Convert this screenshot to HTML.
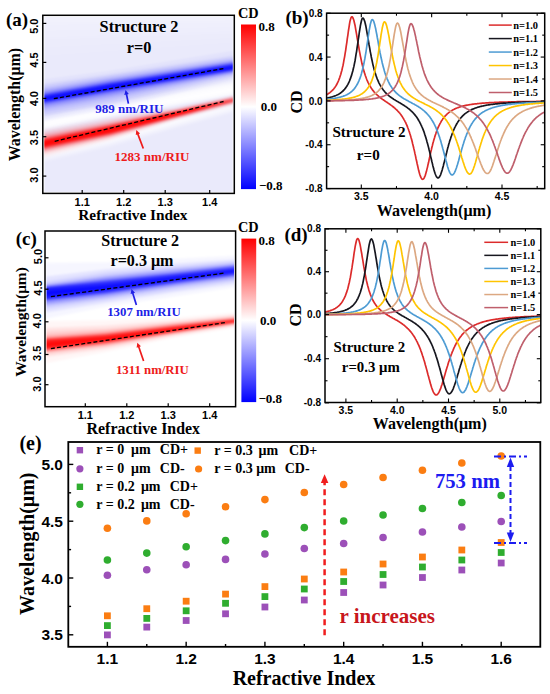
<!DOCTYPE html>
<html><head><meta charset="utf-8"><style>
html,body{margin:0;padding:0;background:#fff;width:550px;height:694px;overflow:hidden}
svg{display:block}
</style></head><body>
<svg width="550" height="694" viewBox="0 0 550 694">
<defs><linearGradient id="cbar" x1="0" y1="0" x2="0" y2="1"><stop offset="0" stop-color="#ff0000" stop-opacity="1"/><stop offset="0.5" stop-color="#ffffff" stop-opacity="1"/><stop offset="1" stop-color="#0000ff" stop-opacity="1"/></linearGradient><clipPath id="paclip"><rect x="44.3" y="16.8" width="188.5" height="175.1"/></clipPath><filter id="pab0f" x="0" y="0" width="550" height="694" filterUnits="userSpaceOnUse"><feGaussianBlur stdDeviation="1"/></filter><filter id="pab1f" x="0" y="0" width="550" height="694" filterUnits="userSpaceOnUse"><feGaussianBlur stdDeviation="1"/></filter><filter id="pab2f" x="0" y="0" width="550" height="694" filterUnits="userSpaceOnUse"><feGaussianBlur stdDeviation="1"/></filter><filter id="pab3f" x="0" y="0" width="550" height="694" filterUnits="userSpaceOnUse"><feGaussianBlur stdDeviation="1"/></filter><filter id="pab4f" x="0" y="0" width="550" height="694" filterUnits="userSpaceOnUse"><feGaussianBlur stdDeviation="1"/></filter><clipPath id="pcclip"><rect x="46.5" y="232.5" width="187.6" height="172.7"/></clipPath><filter id="pcb0f" x="0" y="0" width="550" height="694" filterUnits="userSpaceOnUse"><feGaussianBlur stdDeviation="1"/></filter><filter id="pcb1f" x="0" y="0" width="550" height="694" filterUnits="userSpaceOnUse"><feGaussianBlur stdDeviation="1"/></filter><filter id="pcb2f" x="0" y="0" width="550" height="694" filterUnits="userSpaceOnUse"><feGaussianBlur stdDeviation="1"/></filter><clipPath id="pbclip"><rect x="326.6" y="13.2" width="218.1" height="175.4"/></clipPath><clipPath id="pdclip"><rect x="325" y="228.8" width="215.8" height="173.7"/></clipPath></defs>
<rect width="550" height="694" fill="#fff"/>
<g clip-path="url(#paclip)">
<rect x="44.3" y="16.8" width="188.5" height="175.1" fill="#eaeafb" stroke="none" stroke-width="0"/>
<g fill="#ffffff" filter="url(#pab0f)"><polygon points="38.0,6.0 44.0,6.0 233.0,6.0 239.0,6.0 239.0,43.3 233.0,43.3 44.0,56.5 38.0,56.5" fill-opacity="0.036"/><polygon points="38.0,6.0 44.0,6.0 233.0,6.0 239.0,6.0 239.0,38.0 233.0,38.0 44.0,47.6 38.0,47.6" fill-opacity="0.074"/><polygon points="38.0,6.0 44.0,6.0 233.0,6.0 239.0,6.0 239.0,32.6 233.0,32.6 44.0,38.7 38.0,38.7" fill-opacity="0.080"/><polygon points="38.0,6.0 44.0,6.0 233.0,6.0 239.0,6.0 239.0,27.2 233.0,27.2 44.0,31.0 38.0,31.0" fill-opacity="0.087"/><polygon points="38.0,6.0 44.0,6.0 233.0,6.0 239.0,6.0 239.0,21.9 233.0,21.9 44.0,23.9 38.0,23.9" fill-opacity="0.095"/><polygon points="38.0,6.0 44.0,6.0 233.0,6.0 239.0,6.0 239.0,16.5 233.0,16.5 44.0,16.7 38.0,16.7" fill-opacity="0.105"/></g>
<g fill="#ffffff" filter="url(#pab1f)"><polygon points="38.0,116.9 44.0,115.7 100.0,104.7 200.0,85.7 233.0,79.7 239.0,78.6 239.0,95.3 233.0,96.4 200.0,102.4 100.0,120.3 44.0,131.3 38.0,132.5" fill-opacity="0.036"/><polygon points="38.0,117.3 44.0,116.1 100.0,105.1 200.0,86.1 233.0,80.1 239.0,79.0 239.0,95.0 233.0,96.1 200.0,102.1 100.0,120.0 44.0,131.0 38.0,132.2" fill-opacity="0.074"/><polygon points="38.0,117.7 44.0,116.6 100.0,105.6 200.0,86.6 233.0,80.6 239.0,79.5 239.0,94.8 233.0,95.9 200.0,101.9 100.0,119.7 44.0,130.7 38.0,131.8" fill-opacity="0.080"/><polygon points="38.0,118.1 44.0,117.0 100.0,106.0 200.0,87.0 233.0,81.0 239.0,79.9 239.0,94.5 233.0,95.6 200.0,101.6 100.0,119.3 44.0,130.3 38.0,131.5" fill-opacity="0.087"/><polygon points="38.0,118.6 44.0,117.4 100.0,106.4 200.0,87.4 233.0,81.4 239.0,80.3 239.0,94.3 233.0,95.4 200.0,101.4 100.0,119.0 44.0,130.0 38.0,131.2" fill-opacity="0.095"/><polygon points="38.0,119.0 44.0,117.8 100.0,106.8 200.0,87.8 233.0,81.8 239.0,80.7 239.0,94.0 233.0,95.1 200.0,101.1 100.0,118.7 44.0,129.7 38.0,130.8" fill-opacity="0.105"/><polygon points="38.0,119.4 44.0,118.2 100.0,107.2 200.0,88.2 233.0,82.2 239.0,81.1 239.0,93.8 233.0,94.9 200.0,100.9 100.0,118.3 44.0,129.3 38.0,130.5" fill-opacity="0.118"/><polygon points="38.0,119.8 44.0,118.7 100.0,107.7 200.0,88.7 233.0,82.7 239.0,81.6 239.0,93.5 233.0,94.6 200.0,100.6 100.0,118.0 44.0,129.0 38.0,130.2" fill-opacity="0.133"/><polygon points="38.0,120.2 44.0,119.1 100.0,108.1 200.0,89.1 233.0,83.1 239.0,82.0 239.0,93.3 233.0,94.4 200.0,100.4 100.0,117.6 44.0,128.6 38.0,129.8" fill-opacity="0.154"/><polygon points="38.0,120.7 44.0,119.5 100.0,108.5 200.0,89.5 233.0,83.5 239.0,82.4 239.0,93.0 233.0,94.1 200.0,100.1 100.0,117.3 44.0,128.3 38.0,129.5" fill-opacity="0.182"/><polygon points="38.0,121.1 44.0,119.9 100.0,108.9 200.0,89.9 233.0,83.9 239.0,82.8 239.0,92.8 233.0,93.9 200.0,99.9 100.0,117.0 44.0,128.0 38.0,129.1" fill-opacity="0.222"/><polygon points="38.0,121.5 44.0,120.3 100.0,109.3 200.0,90.3 233.0,84.3 239.0,83.2 239.0,92.5 233.0,93.6 200.0,99.6 100.0,116.6 44.0,127.6 38.0,128.8" fill-opacity="0.286"/><polygon points="38.0,122.8 44.0,121.6 100.0,110.6 200.0,91.9 233.0,85.9 239.0,84.8 239.0,91.3 233.0,92.4 200.0,98.4 100.0,115.6 44.0,126.6 38.0,127.8" fill-opacity="0.400"/><polygon points="38.0,124.7 44.0,123.5 100.0,112.5 200.0,94.3 233.0,88.3 239.0,87.2 239.0,89.4 233.0,90.5 200.0,96.5 100.0,114.2 44.0,125.2 38.0,126.4" fill-opacity="0.667"/></g>
<g fill="#ffffff" filter="url(#pab2f)"><polygon points="38.0,149.6 44.0,148.2 110.0,133.2 175.0,116.7 233.0,101.7 239.0,100.1 239.0,111.7 233.0,113.3 175.0,129.2 110.0,147.7 44.0,162.7 38.0,164.0" fill-opacity="0.036"/><polygon points="38.0,149.9 44.0,148.6 110.0,133.6 175.0,117.0 233.0,102.0 239.0,100.5 239.0,111.2 233.0,112.8 175.0,128.6 110.0,147.0 44.0,162.0 38.0,163.4" fill-opacity="0.074"/><polygon points="38.0,150.3 44.0,149.0 110.0,134.0 175.0,117.3 233.0,102.4 239.0,100.8 239.0,110.8 233.0,112.3 175.0,128.1 110.0,146.4 44.0,161.4 38.0,162.7" fill-opacity="0.080"/><polygon points="38.0,150.7 44.0,149.3 110.0,134.3 175.0,117.6 233.0,102.8 239.0,101.2 239.0,110.3 233.0,111.8 175.0,127.5 110.0,145.7 44.0,160.7 38.0,162.1" fill-opacity="0.087"/><polygon points="38.0,151.1 44.0,149.7 110.0,134.7 175.0,117.9 233.0,103.1 239.0,101.6 239.0,109.8 233.0,111.4 175.0,126.9 110.0,145.1 44.0,160.1 38.0,161.4" fill-opacity="0.095"/><polygon points="38.0,151.5 44.0,150.1 110.0,135.1 175.0,118.2 233.0,103.5 239.0,101.9 239.0,109.3 233.0,110.9 175.0,126.4 110.0,144.4 44.0,159.4 38.0,160.8" fill-opacity="0.105"/><polygon points="38.0,151.8 44.0,150.5 110.0,135.5 175.0,118.5 233.0,103.8 239.0,102.3 239.0,108.8 233.0,110.3 175.0,125.8 110.0,143.8 44.0,158.8 38.0,160.1" fill-opacity="0.118"/><polygon points="38.0,152.2 44.0,150.9 110.0,135.9 175.0,118.8 233.0,104.2 239.0,102.6 239.0,107.9 233.0,109.5 175.0,125.1 110.0,143.1 44.0,158.1 38.0,159.5" fill-opacity="0.133"/><polygon points="38.0,152.6 44.0,151.2 110.0,136.2 175.0,119.1 233.0,104.7 239.0,103.2 239.0,107.1 233.0,108.6 175.0,124.4 110.0,142.4 44.0,157.4 38.0,158.8" fill-opacity="0.154"/><polygon points="38.0,153.0 44.0,151.6 110.0,136.6 175.0,119.4 233.0,106.9 239.0,105.3 239.0,106.2 233.0,107.8 175.0,123.7 110.0,141.7 44.0,156.7 38.0,158.1" fill-opacity="0.182"/><polygon points="38.0,153.4 44.0,152.0 110.0,137.0 175.0,121.0 233.0,107.5 239.0,105.9 239.0,105.9 233.0,107.5 175.0,123.0 110.0,141.0 44.0,156.0 38.0,157.4" fill-opacity="0.222"/><polygon points="38.0,155.5 44.0,154.1 110.0,139.1 175.0,122.5 233.0,107.5 239.0,105.9 239.0,105.9 233.0,107.5 175.0,122.5 110.0,140.3 44.0,155.3 38.0,156.6" fill-opacity="0.286"/></g>
<g fill="#0000ff" filter="url(#pab3f)"><polygon points="38.0,80.5 44.0,79.5 110.0,71.0 233.0,51.1 239.0,50.1 239.0,78.3 233.0,79.3 110.0,109.3 44.0,120.9 38.0,122.0" fill-opacity="0.036"/><polygon points="38.0,85.0 44.0,83.9 110.0,74.4 233.0,55.9 239.0,54.9 239.0,76.0 233.0,76.9 110.0,104.1 44.0,115.7 38.0,116.8" fill-opacity="0.074"/><polygon points="38.0,88.0 44.0,86.9 110.0,76.3 233.0,58.3 239.0,57.4 239.0,74.1 233.0,75.1 110.0,100.8 44.0,112.4 38.0,113.4" fill-opacity="0.080"/><polygon points="38.0,90.0 44.0,88.9 110.0,78.2 233.0,59.9 239.0,58.9 239.0,73.1 233.0,74.0 110.0,98.0 44.0,109.5 38.0,110.6" fill-opacity="0.087"/><polygon points="38.0,91.6 44.0,90.5 110.0,79.3 233.0,60.9 239.0,59.9 239.0,72.0 233.0,73.0 110.0,96.2 44.0,107.8 38.0,108.8" fill-opacity="0.095"/><polygon points="38.0,93.0 44.0,91.9 110.0,80.3 233.0,61.5 239.0,60.6 239.0,71.5 233.0,72.5 110.0,94.4 44.0,106.0 38.0,107.0" fill-opacity="0.105"/><polygon points="38.0,93.8 44.0,92.8 110.0,81.3 233.0,62.2 239.0,61.2 239.0,71.0 233.0,72.0 110.0,93.4 44.0,105.0 38.0,106.1" fill-opacity="0.118"/><polygon points="38.0,94.6 44.0,93.6 110.0,81.9 233.0,62.9 239.0,61.9 239.0,70.5 233.0,71.5 110.0,92.6 44.0,104.1 38.0,105.2" fill-opacity="0.133"/><polygon points="38.0,95.4 44.0,94.3 110.0,82.5 233.0,63.3 239.0,62.4 239.0,70.0 233.0,71.0 110.0,91.7 44.0,103.3 38.0,104.3" fill-opacity="0.154"/><polygon points="38.0,95.9 44.0,94.8 110.0,83.0 233.0,63.8 239.0,62.8 239.0,69.6 233.0,70.6 110.0,91.0 44.0,102.8 38.0,103.8" fill-opacity="0.182"/><polygon points="38.0,96.4 44.0,95.3 110.0,83.5 233.0,64.2 239.0,63.3 239.0,69.3 233.0,70.2 110.0,90.6 44.0,102.3 38.0,103.4" fill-opacity="0.222"/><polygon points="38.0,96.8 44.0,95.8 110.0,84.0 233.0,64.6 239.0,63.7 239.0,68.9 233.0,69.9 110.0,90.2 44.0,101.8 38.0,102.9" fill-opacity="0.286"/><polygon points="38.0,97.3 44.0,96.3 110.0,84.5 233.0,65.3 239.0,64.3 239.0,68.6 233.0,69.5 110.0,89.9 44.0,101.3 38.0,102.4" fill-opacity="0.400"/><polygon points="38.0,99.0 44.0,97.9 110.0,86.1 233.0,66.8 239.0,65.8 239.0,67.3 233.0,68.2 110.0,88.3 44.0,99.7 38.0,100.7" fill-opacity="0.667"/></g>
<g fill="#ff0000" filter="url(#pab4f)"><polygon points="38.0,129.9 44.0,128.7 110.0,117.2 175.0,107.6 233.0,95.6 239.0,94.1 239.0,103.5 233.0,105.0 175.0,120.4 110.0,140.8 44.0,157.8 38.0,159.0" fill-opacity="0.036"/><polygon points="38.0,132.3 44.0,131.1 110.0,119.6 175.0,108.4 233.0,96.2 239.0,94.7 239.0,102.9 233.0,104.3 175.0,119.7 110.0,139.1 44.0,155.1 38.0,156.3" fill-opacity="0.074"/><polygon points="38.0,134.2 44.0,133.0 110.0,121.0 175.0,109.2 233.0,96.7 239.0,95.3 239.0,102.2 233.0,103.7 175.0,119.1 110.0,137.8 44.0,153.1 38.0,154.3" fill-opacity="0.080"/><polygon points="38.0,135.5 44.0,134.2 110.0,122.2 175.0,109.8 233.0,97.3 239.0,95.9 239.0,101.7 233.0,103.2 175.0,118.6 110.0,136.8 44.0,152.0 38.0,153.2" fill-opacity="0.087"/><polygon points="38.0,136.7 44.0,135.5 110.0,123.2 175.0,110.2 233.0,97.6 239.0,96.2 239.0,101.4 233.0,102.8 175.0,118.2 110.0,136.3 44.0,150.9 38.0,152.2" fill-opacity="0.095"/><polygon points="38.0,137.8 44.0,136.6 110.0,123.7 175.0,110.5 233.0,97.9 239.0,96.5 239.0,101.1 233.0,102.5 175.0,117.9 110.0,135.8 44.0,150.1 38.0,151.4" fill-opacity="0.105"/><polygon points="38.0,138.4 44.0,137.2 110.0,124.3 175.0,110.8 233.0,98.2 239.0,96.8 239.0,100.8 233.0,102.2 175.0,117.6 110.0,135.3 44.0,149.5 38.0,150.8" fill-opacity="0.118"/><polygon points="38.0,138.9 44.0,137.7 110.0,124.9 175.0,111.1 233.0,98.5 239.0,97.1 239.0,100.4 233.0,101.9 175.0,117.3 110.0,134.8 44.0,149.0 38.0,150.2" fill-opacity="0.133"/><polygon points="38.0,139.5 44.0,138.3 110.0,125.3 175.0,111.4 233.0,98.9 239.0,97.4 239.0,99.9 233.0,101.4 175.0,117.0 110.0,134.5 44.0,148.4 38.0,149.6" fill-opacity="0.154"/><polygon points="38.0,140.1 44.0,138.8 110.0,125.6 175.0,111.7 233.0,99.6 239.0,98.1 239.0,99.4 233.0,100.8 175.0,116.7 110.0,134.1 44.0,147.8 38.0,149.0" fill-opacity="0.182"/><polygon points="38.0,140.6 44.0,139.4 110.0,126.0 175.0,112.0 233.0,100.3 239.0,98.9 239.0,98.9 233.0,100.3 175.0,116.5 110.0,133.8 44.0,147.4 38.0,148.6" fill-opacity="0.222"/><polygon points="38.0,141.1 44.0,139.9 110.0,126.4 175.0,112.2 233.0,100.3 239.0,98.9 239.0,98.9 233.0,100.3 175.0,116.2 110.0,133.3 44.0,146.9 38.0,148.2" fill-opacity="0.286"/><polygon points="38.0,141.7 44.0,140.4 110.0,126.9 175.0,112.5 233.0,100.3 239.0,98.9 239.0,98.9 233.0,100.3 175.0,115.9 110.0,132.8 44.0,146.5 38.0,147.7" fill-opacity="0.400"/><polygon points="38.0,142.2 44.0,141.0 110.0,127.6 175.0,113.1 233.0,100.3 239.0,98.9 239.0,98.9 233.0,100.3 175.0,115.3 110.0,132.3 44.0,146.0 38.0,147.3" fill-opacity="0.667"/></g>
</g>
<line x1="53.8" y1="98.7" x2="223.6" y2="68.5" stroke="#000" stroke-width="1.3" stroke-dasharray="4.02 2.21"/>
<line x1="54.7" y1="141.3" x2="223.6" y2="101.5" stroke="#000" stroke-width="1.3" stroke-dasharray="4.05 2.23"/>
<rect x="42.8" y="15.3" width="191.5" height="178.1" fill="none" stroke="#000" stroke-width="1.5"/>
<line x1="42.8" y1="23.4" x2="46.3" y2="23.4" stroke="#000" stroke-width="1.2"/>
<line x1="42.8" y1="62.4" x2="46.3" y2="62.4" stroke="#000" stroke-width="1.2"/>
<line x1="42.8" y1="98.4" x2="46.3" y2="98.4" stroke="#000" stroke-width="1.2"/>
<line x1="42.8" y1="136.7" x2="46.3" y2="136.7" stroke="#000" stroke-width="1.2"/>
<line x1="42.8" y1="176.1" x2="46.3" y2="176.1" stroke="#000" stroke-width="1.2"/>
<line x1="82.2" y1="193.4" x2="82.2" y2="189.9" stroke="#000" stroke-width="1.2"/>
<line x1="123.7" y1="193.4" x2="123.7" y2="189.9" stroke="#000" stroke-width="1.2"/>
<line x1="165.2" y1="193.4" x2="165.2" y2="189.9" stroke="#000" stroke-width="1.2"/>
<line x1="209.7" y1="193.4" x2="209.7" y2="189.9" stroke="#000" stroke-width="1.2"/>
<text x="139" y="32.2" font-family='"Liberation Serif", serif' font-size="16.3" font-weight="bold" text-anchor="middle" fill="#000">Structure 2</text>
<text x="139" y="53.1" font-family='"Liberation Serif", serif' font-size="16.3" font-weight="bold" text-anchor="middle" fill="#000">r=0</text>
<text x="129.3" y="112.6" font-family='"Liberation Serif", serif' font-size="13" font-weight="bold" text-anchor="middle" fill="#1f1fe6">989 nm/RIU</text>
<text x="152" y="160.7" font-family='"Liberation Serif", serif' font-size="13" font-weight="bold" text-anchor="middle" fill="#ee1b1b">1283 nm/RIU</text>
<line x1="128.4" y1="103.6" x2="126.43" y2="94.02" stroke="#1f1fe6" stroke-width="1.7"/>
<polygon points="125.6,90 128.78,94.04 124.27,94.97" fill="#1f1fe6"/>
<line x1="143.3" y1="148.5" x2="137.75" y2="133.83" stroke="#ee1b1b" stroke-width="1.7"/>
<polygon points="136.3,130 140.08,133.49 135.78,135.12" fill="#ee1b1b"/>
<text x="38.3" y="26.2" font-family='"Liberation Sans", sans-serif' font-size="11" font-weight="bold" text-anchor="middle" fill="#000" transform="rotate(-90 38.3 26.2)">5.0</text>
<text x="38.3" y="60" font-family='"Liberation Sans", sans-serif' font-size="11" font-weight="bold" text-anchor="middle" fill="#000" transform="rotate(-90 38.3 60)">4.5</text>
<text x="38.3" y="98.7" font-family='"Liberation Sans", sans-serif' font-size="11" font-weight="bold" text-anchor="middle" fill="#000" transform="rotate(-90 38.3 98.7)">4.0</text>
<text x="38.3" y="137.5" font-family='"Liberation Sans", sans-serif' font-size="11" font-weight="bold" text-anchor="middle" fill="#000" transform="rotate(-90 38.3 137.5)">3.5</text>
<text x="38.3" y="175.1" font-family='"Liberation Sans", sans-serif' font-size="11" font-weight="bold" text-anchor="middle" fill="#000" transform="rotate(-90 38.3 175.1)">3.0</text>
<text x="82.2" y="205.7" font-family='"Liberation Sans", sans-serif' font-size="11" font-weight="bold" text-anchor="middle" fill="#000">1.1</text>
<text x="123.7" y="205.7" font-family='"Liberation Sans", sans-serif' font-size="11" font-weight="bold" text-anchor="middle" fill="#000">1.2</text>
<text x="165.2" y="205.7" font-family='"Liberation Sans", sans-serif' font-size="11" font-weight="bold" text-anchor="middle" fill="#000">1.3</text>
<text x="209.7" y="205.7" font-family='"Liberation Sans", sans-serif' font-size="11" font-weight="bold" text-anchor="middle" fill="#000">1.4</text>
<text x="132.9" y="220.1" font-family='"Liberation Serif", serif' font-size="15.3" font-weight="bold" text-anchor="middle" fill="#000">Refractive Index</text>
<text x="19.8" y="104.6" font-family='"Liberation Serif", serif' font-size="15.9" font-weight="bold" text-anchor="middle" fill="#000" transform="rotate(-90 19.8 104.6)">Wavelength(μm)</text>
<text x="17.1" y="26.1" font-family='"Liberation Serif", serif' font-size="19" font-weight="bold" text-anchor="middle" fill="#000">(a)</text>
<rect x="241" y="24.5" width="15" height="164.6" fill="url(#cbar)" stroke="none" stroke-width="0"/>
<text x="248.3" y="18.3" font-family='"Liberation Serif", serif' font-size="14.3" font-weight="bold" text-anchor="middle" fill="#000">CD</text>
<text x="258.4" y="30.5" font-family='"Liberation Serif", serif' font-size="13" font-weight="bold" text-anchor="start" fill="#000">0.8</text>
<text x="260.7" y="110.9" font-family='"Liberation Serif", serif' font-size="13" font-weight="bold" text-anchor="start" fill="#000">0.0</text>
<text x="258.9" y="189.5" font-family='"Liberation Serif", serif' font-size="13" font-weight="bold" text-anchor="start" fill="#000">−0.8</text>
<g clip-path="url(#pcclip)">
<rect x="46.5" y="232.5" width="187.6" height="172.7" fill="#ffffff" stroke="none" stroke-width="0"/>
<g fill="#ff0000" filter="url(#pcb0f)"></g>
<g fill="#0000ff" filter="url(#pcb1f)"><polygon points="40.0,263.3 46.0,262.7 106.0,262.3 175.0,258.7 234.0,255.7 240.0,254.9 240.0,286.7 234.0,287.4 175.0,296.4 106.0,306.7 46.0,318.8 40.0,319.4" fill-opacity="0.036"/><polygon points="40.0,277.1 46.0,276.5 106.0,269.2 175.0,263.5 234.0,259.6 240.0,258.9 240.0,283.5 234.0,284.3 175.0,292.3 106.0,302.9 46.0,312.4 40.0,313.0" fill-opacity="0.074"/><polygon points="40.0,281.8 46.0,281.2 106.0,272.6 175.0,266.6 234.0,261.2 240.0,260.5 240.0,280.9 234.0,281.6 175.0,289.9 106.0,300.3 46.0,309.0 40.0,309.6" fill-opacity="0.080"/><polygon points="40.0,284.0 46.0,283.4 106.0,275.3 175.0,268.3 234.0,262.9 240.0,262.1 240.0,279.4 234.0,280.1 175.0,287.5 106.0,298.6 46.0,306.3 40.0,306.9" fill-opacity="0.087"/><polygon points="40.0,285.1 46.0,284.5 106.0,276.4 175.0,269.5 234.0,264.2 240.0,263.4 240.0,277.9 234.0,278.6 175.0,286.5 106.0,297.0 46.0,304.9 40.0,305.5" fill-opacity="0.095"/><polygon points="40.0,286.0 46.0,285.4 106.0,277.6 175.0,270.7 234.0,264.7 240.0,264.0 240.0,276.4 234.0,277.1 175.0,285.5 106.0,295.9 46.0,303.4 40.0,304.0" fill-opacity="0.105"/><polygon points="40.0,286.4 46.0,285.8 106.0,278.7 175.0,271.9 234.0,265.3 240.0,264.5 240.0,275.8 234.0,276.5 175.0,284.5 106.0,294.8 46.0,302.3 40.0,302.9" fill-opacity="0.118"/><polygon points="40.0,286.8 46.0,286.2 106.0,279.6 175.0,272.8 234.0,265.8 240.0,265.1 240.0,275.2 234.0,276.0 175.0,283.7 106.0,294.0 46.0,301.3 40.0,301.9" fill-opacity="0.133"/><polygon points="40.0,287.2 46.0,286.6 106.0,280.2 175.0,273.3 234.0,266.4 240.0,265.6 240.0,274.7 234.0,275.4 175.0,283.2 106.0,293.5 46.0,300.3 40.0,300.9" fill-opacity="0.154"/><polygon points="40.0,287.6 46.0,287.0 106.0,280.8 175.0,273.8 234.0,266.9 240.0,266.2 240.0,274.1 234.0,274.9 175.0,282.7 106.0,293.0 46.0,299.8 40.0,300.4" fill-opacity="0.182"/><polygon points="40.0,288.0 46.0,287.4 106.0,281.4 175.0,274.3 234.0,267.5 240.0,266.7 240.0,273.6 234.0,274.4 175.0,282.2 106.0,292.5 46.0,299.3 40.0,299.9" fill-opacity="0.222"/><polygon points="40.0,288.4 46.0,287.8 106.0,282.1 175.0,274.8 234.0,268.5 240.0,267.7 240.0,272.9 234.0,273.7 175.0,281.7 106.0,292.0 46.0,298.8 40.0,299.4" fill-opacity="0.286"/><polygon points="40.0,288.7 46.0,288.1 106.0,283.7 175.0,276.0 234.0,269.5 240.0,268.7 240.0,271.8 234.0,272.6 175.0,280.6 106.0,290.5 46.0,298.4 40.0,299.0" fill-opacity="0.400"/><polygon points="40.0,291.7 46.0,291.1 106.0,286.1 175.0,277.7 234.0,270.5 240.0,269.7 240.0,270.8 234.0,271.5 175.0,279.2 106.0,288.4 46.0,295.5 40.0,296.1" fill-opacity="0.667"/></g>
<g fill="#ff0000" filter="url(#pcb2f)"><polygon points="40.0,321.7 46.0,321.1 106.0,320.2 175.0,317.7 234.0,312.4 240.0,311.6 240.0,327.1 234.0,327.9 175.0,337.6 106.0,351.9 46.0,363.2 40.0,363.8" fill-opacity="0.036"/><polygon points="40.0,328.3 46.0,327.7 106.0,325.5 175.0,320.4 234.0,314.8 240.0,314.0 240.0,325.4 234.0,326.3 175.0,335.9 106.0,348.9 46.0,356.9 40.0,357.5" fill-opacity="0.074"/><polygon points="40.0,331.8 46.0,331.1 106.0,328.8 175.0,321.9 234.0,315.9 240.0,315.1 240.0,324.6 234.0,325.4 175.0,334.3 106.0,347.1 46.0,354.4 40.0,355.1" fill-opacity="0.080"/><polygon points="40.0,334.5 46.0,333.9 106.0,330.1 175.0,323.3 234.0,316.9 240.0,316.1 240.0,323.7 234.0,324.6 175.0,333.9 106.0,346.1 46.0,352.8 40.0,353.4" fill-opacity="0.087"/><polygon points="40.0,336.6 46.0,336.0 106.0,331.5 175.0,323.8 234.0,317.8 240.0,317.0 240.0,323.2 234.0,324.1 175.0,333.4 106.0,345.1 46.0,352.2 40.0,352.8" fill-opacity="0.095"/><polygon points="40.0,337.3 46.0,336.7 106.0,332.7 175.0,324.3 234.0,318.1 240.0,317.3 240.0,323.0 234.0,323.8 175.0,333.0 106.0,344.4 46.0,351.6 40.0,352.2" fill-opacity="0.105"/><polygon points="40.0,338.1 46.0,337.4 106.0,333.2 175.0,324.8 234.0,318.4 240.0,317.6 240.0,322.7 234.0,323.5 175.0,332.5 106.0,343.9 46.0,351.0 40.0,351.6" fill-opacity="0.118"/><polygon points="40.0,338.8 46.0,338.2 106.0,333.6 175.0,325.3 234.0,318.7 240.0,317.9 240.0,322.5 234.0,323.3 175.0,332.2 106.0,343.4 46.0,350.4 40.0,351.0" fill-opacity="0.133"/><polygon points="40.0,339.2 46.0,338.6 106.0,334.1 175.0,325.8 234.0,319.1 240.0,318.2 240.0,322.2 234.0,323.0 175.0,331.9 106.0,342.9 46.0,350.0 40.0,350.6" fill-opacity="0.154"/><polygon points="40.0,339.6 46.0,339.0 106.0,334.6 175.0,326.2 234.0,319.4 240.0,318.6 240.0,322.0 234.0,322.8 175.0,331.6 106.0,342.4 46.0,349.6 40.0,350.2" fill-opacity="0.182"/><polygon points="40.0,340.0 46.0,339.4 106.0,335.0 175.0,326.7 234.0,319.7 240.0,318.9 240.0,321.6 234.0,322.4 175.0,331.4 106.0,342.0 46.0,349.2 40.0,349.8" fill-opacity="0.222"/><polygon points="40.0,340.4 46.0,339.8 106.0,335.5 175.0,327.1 234.0,320.2 240.0,319.4 240.0,321.1 234.0,322.0 175.0,331.1 106.0,341.6 46.0,348.8 40.0,349.5" fill-opacity="0.286"/><polygon points="40.0,340.8 46.0,340.2 106.0,335.9 175.0,327.5 234.0,320.8 240.0,319.9 240.0,320.7 234.0,321.5 175.0,330.8 106.0,341.3 46.0,348.4 40.0,349.1" fill-opacity="0.400"/><polygon points="40.0,343.4 46.0,342.8 106.0,337.5 175.0,328.2 234.0,321.2 240.0,320.4 240.0,320.4 234.0,321.2 175.0,329.8 106.0,339.7 46.0,346.4 40.0,347.0" fill-opacity="0.667"/></g>
</g>
<line x1="50.9" y1="296.6" x2="223.5" y2="273.2" stroke="#000" stroke-width="1.3" stroke-dasharray="4.06 2.24"/>
<line x1="50.9" y1="348.6" x2="225" y2="322.6" stroke="#000" stroke-width="1.3" stroke-dasharray="3.96 2.18"/>
<rect x="45" y="231" width="190.6" height="175.7" fill="none" stroke="#000" stroke-width="1.5"/>
<line x1="45" y1="257.8" x2="48.5" y2="257.8" stroke="#000" stroke-width="1.2"/>
<line x1="45" y1="289.2" x2="48.5" y2="289.2" stroke="#000" stroke-width="1.2"/>
<line x1="45" y1="321.8" x2="48.5" y2="321.8" stroke="#000" stroke-width="1.2"/>
<line x1="45" y1="354.5" x2="48.5" y2="354.5" stroke="#000" stroke-width="1.2"/>
<line x1="45" y1="384.7" x2="48.5" y2="384.7" stroke="#000" stroke-width="1.2"/>
<line x1="85.3" y1="406.7" x2="85.3" y2="403.2" stroke="#000" stroke-width="1.2"/>
<line x1="126.8" y1="406.7" x2="126.8" y2="403.2" stroke="#000" stroke-width="1.2"/>
<line x1="168.2" y1="406.7" x2="168.2" y2="403.2" stroke="#000" stroke-width="1.2"/>
<line x1="209.7" y1="406.7" x2="209.7" y2="403.2" stroke="#000" stroke-width="1.2"/>
<text x="140.2" y="246" font-family='"Liberation Serif", serif' font-size="16.1" font-weight="bold" text-anchor="middle" fill="#000">Structure 2</text>
<text x="142" y="266" font-family='"Liberation Serif", serif' font-size="16.1" font-weight="bold" text-anchor="middle" fill="#000">r=0.3 μm</text>
<text x="144" y="316.3" font-family='"Liberation Serif", serif' font-size="12.8" font-weight="bold" text-anchor="middle" fill="#1f1fe6">1307 nm/RIU</text>
<text x="152.4" y="374.4" font-family='"Liberation Serif", serif' font-size="12.8" font-weight="bold" text-anchor="middle" fill="#ee1b1b">1311 nm/RIU</text>
<line x1="136.4" y1="305" x2="132.7" y2="292.92" stroke="#1f1fe6" stroke-width="1.7"/>
<polygon points="131.5,289 135.05,292.72 130.65,294.07" fill="#1f1fe6"/>
<line x1="143.6" y1="361" x2="138.63" y2="346.58" stroke="#ee1b1b" stroke-width="1.7"/>
<polygon points="137.3,342.7 140.97,346.3 136.62,347.8" fill="#ee1b1b"/>
<text x="41.5" y="256.5" font-family='"Liberation Sans", sans-serif' font-size="11" font-weight="bold" text-anchor="middle" fill="#000" transform="rotate(-90 41.5 256.5)">5.0</text>
<text x="41.5" y="288" font-family='"Liberation Sans", sans-serif' font-size="11" font-weight="bold" text-anchor="middle" fill="#000" transform="rotate(-90 41.5 288)">4.5</text>
<text x="41.5" y="320.8" font-family='"Liberation Sans", sans-serif' font-size="11" font-weight="bold" text-anchor="middle" fill="#000" transform="rotate(-90 41.5 320.8)">4.0</text>
<text x="41.5" y="353.3" font-family='"Liberation Sans", sans-serif' font-size="11" font-weight="bold" text-anchor="middle" fill="#000" transform="rotate(-90 41.5 353.3)">3.5</text>
<text x="41.5" y="384.1" font-family='"Liberation Sans", sans-serif' font-size="11" font-weight="bold" text-anchor="middle" fill="#000" transform="rotate(-90 41.5 384.1)">3.0</text>
<text x="85.3" y="418.5" font-family='"Liberation Sans", sans-serif' font-size="11" font-weight="bold" text-anchor="middle" fill="#000">1.1</text>
<text x="126.8" y="418.5" font-family='"Liberation Sans", sans-serif' font-size="11" font-weight="bold" text-anchor="middle" fill="#000">1.2</text>
<text x="168.2" y="418.5" font-family='"Liberation Sans", sans-serif' font-size="11" font-weight="bold" text-anchor="middle" fill="#000">1.3</text>
<text x="209.7" y="418.5" font-family='"Liberation Sans", sans-serif' font-size="11" font-weight="bold" text-anchor="middle" fill="#000">1.4</text>
<text x="143.3" y="433.8" font-family='"Liberation Serif", serif' font-size="15.9" font-weight="bold" text-anchor="middle" fill="#000">Refractive Index</text>
<text x="25.6" y="322" font-family='"Liberation Serif", serif' font-size="15.4" font-weight="bold" text-anchor="middle" fill="#000" transform="rotate(-90 25.6 322)">Wavelength(μm)</text>
<text x="26.3" y="244.6" font-family='"Liberation Serif", serif' font-size="19" font-weight="bold" text-anchor="middle" fill="#000">(c)</text>
<rect x="241.4" y="238.6" width="14.8" height="163.5" fill="url(#cbar)" stroke="none" stroke-width="0"/>
<text x="248.3" y="232.4" font-family='"Liberation Serif", serif' font-size="14.3" font-weight="bold" text-anchor="middle" fill="#000">CD</text>
<text x="258.4" y="244.5" font-family='"Liberation Serif", serif' font-size="13" font-weight="bold" text-anchor="start" fill="#000">0.8</text>
<text x="259.9" y="324.7" font-family='"Liberation Serif", serif' font-size="13" font-weight="bold" text-anchor="start" fill="#000">0.0</text>
<text x="258.4" y="403.2" font-family='"Liberation Serif", serif' font-size="13" font-weight="bold" text-anchor="start" fill="#000">−0.8</text>
<g clip-path="url(#pbclip)" fill="none" stroke-width="1.7" stroke-linejoin="round">
<polyline stroke="#dc2b2b" points="326.6,94.6 327.1,94.3 327.7,94.0 328.2,93.7 328.8,93.3 329.3,93.0 329.9,92.6 330.4,92.2 331.0,91.7 331.5,91.2 332.1,90.7 332.6,90.2 333.1,89.6 333.7,89.0 334.2,88.3 334.8,87.5 335.3,86.8 335.9,85.9 336.4,85.0 337.0,84.0 337.5,82.9 338.1,81.7 338.6,80.5 339.1,79.1 339.7,77.6 340.2,76.0 340.8,74.2 341.3,72.3 341.9,70.2 342.4,67.9 343.0,65.5 343.5,62.8 344.0,59.9 344.6,56.8 345.1,53.6 345.7,50.1 346.2,46.4 346.8,42.6 347.3,38.7 347.9,34.8 348.4,31.0 349.0,27.3 349.5,24.0 350.0,21.2 350.6,19.0 351.1,17.5 351.7,16.8 352.2,16.9 352.8,17.6 353.3,18.8 353.9,20.5 354.4,22.7 355.0,25.2 355.5,28.1 356.0,31.1 356.6,34.3 357.1,37.5 357.7,40.8 358.2,44.0 358.8,47.2 359.3,50.3 359.9,53.3 360.4,56.1 361.0,58.8 361.5,61.4 362.0,63.8 362.6,66.0 363.1,68.2 363.7,70.2 364.2,72.1 364.8,73.8 365.3,75.5 365.9,77.0 366.4,78.5 366.9,79.8 367.5,81.1 368.0,82.3 368.6,83.4 369.1,84.5 369.7,85.5 370.2,86.4 370.8,87.3 371.3,88.2 371.9,89.0 372.4,89.7 372.9,90.4 373.5,91.1 374.0,91.8 374.6,92.4 375.1,93.0 375.7,93.6 376.2,94.1 376.8,94.6 377.3,95.1 377.9,95.6 378.4,96.1 378.9,96.6 379.5,97.0 380.0,97.4 380.6,97.9 381.1,98.3 381.7,98.7 382.2,99.1 382.8,99.5 383.3,99.8 383.9,100.2 384.4,100.6 384.9,101.0 385.5,101.3 386.0,101.7 386.6,102.1 387.1,102.4 387.7,102.8 388.2,103.2 388.8,103.6 389.3,103.9 389.8,104.3 390.4,104.7 390.9,105.1 391.5,105.5 392.0,105.9 392.6,106.3 393.1,106.8 393.7,107.2 394.2,107.7 394.8,108.1 395.3,108.6 395.8,109.1 396.4,109.6 396.9,110.1 397.5,110.7 398.0,111.3 398.6,111.9 399.1,112.5 399.7,113.1 400.2,113.8 400.8,114.5 401.3,115.3 401.8,116.0 402.4,116.9 402.9,117.7 403.5,118.6 404.0,119.6 404.6,120.6 405.1,121.6 405.7,122.7 406.2,123.9 406.8,125.1 407.3,126.4 407.8,127.8 408.4,129.3 408.9,130.8 409.5,132.4 410.0,134.1 410.6,135.9 411.1,137.8 411.7,139.8 412.2,141.8 412.7,144.0 413.3,146.2 413.8,148.5 414.4,150.9 414.9,153.4 415.5,155.9 416.0,158.5 416.6,161.0 417.1,163.5 417.7,166.0 418.2,168.4 418.7,170.6 419.3,172.7 419.8,174.5 420.4,176.1 420.9,177.4 421.5,178.4 422.0,179.1 422.6,179.3 423.1,179.2 423.7,178.7 424.2,177.9 424.7,176.7 425.3,175.3 425.8,173.5 426.4,171.6 426.9,169.4 427.5,167.1 428.0,164.7 428.6,162.3 429.1,159.8 429.7,157.3 430.2,154.8 430.7,152.4 431.3,150.0 431.8,147.7 432.4,145.5 432.9,143.3 433.5,141.3 434.0,139.4 434.6,137.5 435.1,135.7 435.7,134.1 436.2,132.5 436.7,131.0 437.3,129.6 437.8,128.2 438.4,127.0 438.9,125.8 439.5,124.6 440.0,123.6 440.6,122.6 441.1,121.6 441.6,120.7 442.2,119.9 442.7,119.1 443.3,118.3 443.8,117.6 444.4,116.9 444.9,116.3 445.5,115.7 446.0,115.1 446.6,114.6 447.1,114.0 447.6,113.5 448.2,113.1 448.7,112.6 449.3,112.2 449.8,111.8 450.4,111.4 450.9,111.1 451.5,110.7 452.0,110.4 452.6,110.1 453.1,109.8 453.6,109.5 454.2,109.2 454.7,108.9 455.3,108.7 455.8,108.4 456.4,108.2 456.9,108.0 457.5,107.8 458.0,107.6 458.6,107.4 459.1,107.2 459.6,107.0 460.2,106.8 460.7,106.7 461.3,106.5 461.8,106.4 462.4,106.2 462.9,106.1 463.5,105.9 464.0,105.8 464.5,105.7 465.1,105.6 465.6,105.4 466.2,105.3 466.7,105.2 467.3,105.1 467.8,105.0 468.4,104.9 468.9,104.8 469.5,104.7 470.0,104.6 470.5,104.5 471.1,104.5 471.6,104.4 472.2,104.3 472.7,104.2 473.3,104.1 473.8,104.1 474.4,104.0 474.9,103.9 475.5,103.9 476.0,103.8 476.5,103.8 477.1,103.7 477.6,103.6 478.2,103.6 478.7,103.5 479.3,103.5 479.8,103.4 480.4,103.4 480.9,103.3 481.5,103.3 482.0,103.2 482.5,103.2 483.1,103.1 483.6,103.1 484.2,103.1 484.7,103.0 485.3,103.0 485.8,102.9 486.4,102.9 486.9,102.9 487.4,102.8 488.0,102.8 488.5,102.8 489.1,102.7 489.6,102.7 490.2,102.7 490.7,102.6 491.3,102.6 491.8,102.6 492.4,102.5 492.9,102.5 493.4,102.5 494.0,102.5 494.5,102.4 495.1,102.4 495.6,102.4 496.2,102.4 496.7,102.3 497.3,102.3 497.8,102.3 498.4,102.3 498.9,102.3 499.4,102.2 500.0,102.2 500.5,102.2 501.1,102.2 501.6,102.2 502.2,102.1 502.7,102.1 503.3,102.1 503.8,102.1 504.4,102.1 504.9,102.0 505.4,102.0 506.0,102.0 506.5,102.0 507.1,102.0 507.6,102.0 508.2,101.9 508.7,101.9 509.3,101.9 509.8,101.9 510.3,101.9 510.9,101.9 511.4,101.9 512.0,101.9 512.5,101.8 513.1,101.8 513.6,101.8 514.2,101.8 514.7,101.8 515.3,101.8 515.8,101.8 516.3,101.8 516.9,101.7 517.4,101.7 518.0,101.7 518.5,101.7 519.1,101.7 519.6,101.7 520.2,101.7 520.7,101.7 521.3,101.7 521.8,101.7 522.3,101.6 522.9,101.6 523.4,101.6 524.0,101.6 524.5,101.6 525.1,101.6 525.6,101.6 526.2,101.6 526.7,101.6 527.3,101.6 527.8,101.6 528.3,101.6 528.9,101.5 529.4,101.5 530.0,101.5 530.5,101.5 531.1,101.5 531.6,101.5 532.2,101.5 532.7,101.5 533.2,101.5 533.8,101.5 534.3,101.5 534.9,101.5 535.4,101.5 536.0,101.5 536.5,101.4 537.1,101.4 537.6,101.4 538.2,101.4 538.7,101.4 539.2,101.4 539.8,101.4 540.3,101.4 540.9,101.4 541.4,101.4 542.0,101.4 542.5,101.4 543.1,101.4 543.6,101.4 544.2,101.4 544.7,101.4"/>
<polyline stroke="#17171f" points="326.6,98.1 327.1,98.0 327.7,97.9 328.2,97.8 328.8,97.7 329.3,97.5 329.9,97.4 330.4,97.3 331.0,97.2 331.5,97.0 332.1,96.9 332.6,96.7 333.1,96.5 333.7,96.3 334.2,96.1 334.8,96.0 335.3,95.7 335.9,95.5 336.4,95.3 337.0,95.0 337.5,94.8 338.1,94.5 338.6,94.2 339.1,93.9 339.7,93.5 340.2,93.2 340.8,92.8 341.3,92.4 341.9,91.9 342.4,91.5 343.0,91.0 343.5,90.4 344.0,89.9 344.6,89.3 345.1,88.6 345.7,87.9 346.2,87.1 346.8,86.3 347.3,85.4 347.9,84.4 348.4,83.4 349.0,82.2 349.5,81.0 350.0,79.6 350.6,78.2 351.1,76.6 351.7,74.9 352.2,73.0 352.8,71.0 353.3,68.8 353.9,66.4 354.4,63.8 355.0,61.0 355.5,57.9 356.0,54.7 356.6,51.3 357.1,47.7 357.7,44.0 358.2,40.2 358.8,36.3 359.3,32.5 359.9,28.9 360.4,25.6 361.0,22.8 361.5,20.5 362.0,18.9 362.6,18.2 363.1,18.2 363.7,18.8 364.2,20.0 364.8,21.6 365.3,23.8 365.9,26.3 366.4,29.1 366.9,32.1 367.5,35.3 368.0,38.5 368.6,41.8 369.1,45.0 369.7,48.2 370.2,51.3 370.8,54.2 371.3,57.0 371.9,59.7 372.4,62.2 372.9,64.6 373.5,66.9 374.0,69.0 374.6,70.9 375.1,72.8 375.7,74.5 376.2,76.1 376.8,77.7 377.3,79.1 377.9,80.4 378.4,81.7 378.9,82.8 379.5,83.9 380.0,84.9 380.6,85.9 381.1,86.8 381.7,87.7 382.2,88.5 382.8,89.3 383.3,90.0 383.9,90.7 384.4,91.3 384.9,92.0 385.5,92.6 386.0,93.1 386.6,93.7 387.1,94.2 387.7,94.7 388.2,95.2 388.8,95.6 389.3,96.1 389.8,96.5 390.4,96.9 390.9,97.3 391.5,97.7 392.0,98.1 392.6,98.4 393.1,98.8 393.7,99.2 394.2,99.5 394.8,99.8 395.3,100.2 395.8,100.5 396.4,100.8 396.9,101.2 397.5,101.5 398.0,101.8 398.6,102.1 399.1,102.5 399.7,102.8 400.2,103.1 400.8,103.4 401.3,103.8 401.8,104.1 402.4,104.4 402.9,104.7 403.5,105.1 404.0,105.4 404.6,105.8 405.1,106.2 405.7,106.5 406.2,106.9 406.8,107.3 407.3,107.7 407.8,108.1 408.4,108.5 408.9,108.9 409.5,109.4 410.0,109.8 410.6,110.3 411.1,110.8 411.7,111.3 412.2,111.9 412.7,112.4 413.3,113.0 413.8,113.6 414.4,114.2 414.9,114.9 415.5,115.6 416.0,116.3 416.6,117.1 417.1,117.8 417.7,118.7 418.2,119.5 418.7,120.5 419.3,121.4 419.8,122.4 420.4,123.5 420.9,124.6 421.5,125.8 422.0,127.0 422.6,128.3 423.1,129.7 423.7,131.1 424.2,132.6 424.7,134.2 425.3,135.9 425.8,137.6 426.4,139.5 426.9,141.4 427.5,143.4 428.0,145.4 428.6,147.6 429.1,149.8 429.7,152.0 430.2,154.3 430.7,156.6 431.3,159.0 431.8,161.3 432.4,163.6 432.9,165.9 433.5,168.0 434.0,170.0 434.6,171.9 435.1,173.5 435.7,175.0 436.2,176.1 436.7,177.0 437.3,177.6 437.8,177.9 438.4,177.9 438.9,177.5 439.5,176.9 440.0,175.9 440.6,174.8 441.1,173.3 441.6,171.7 442.2,169.9 442.7,168.0 443.3,165.9 443.8,163.8 444.4,161.6 444.9,159.4 445.5,157.2 446.0,155.0 446.6,152.8 447.1,150.6 447.6,148.6 448.2,146.5 448.7,144.5 449.3,142.6 449.8,140.8 450.4,139.1 450.9,137.4 451.5,135.8 452.0,134.3 452.6,132.8 453.1,131.4 453.6,130.1 454.2,128.9 454.7,127.7 455.3,126.6 455.8,125.5 456.4,124.5 456.9,123.5 457.5,122.6 458.0,121.8 458.6,120.9 459.1,120.2 459.6,119.4 460.2,118.7 460.7,118.0 461.3,117.4 461.8,116.8 462.4,116.2 462.9,115.7 463.5,115.1 464.0,114.6 464.5,114.2 465.1,113.7 465.6,113.3 466.2,112.9 466.7,112.5 467.3,112.1 467.8,111.7 468.4,111.4 468.9,111.1 469.5,110.8 470.0,110.5 470.5,110.2 471.1,109.9 471.6,109.6 472.2,109.4 472.7,109.1 473.3,108.9 473.8,108.7 474.4,108.4 474.9,108.2 475.5,108.0 476.0,107.8 476.5,107.7 477.1,107.5 477.6,107.3 478.2,107.1 478.7,107.0 479.3,106.8 479.8,106.7 480.4,106.5 480.9,106.4 481.5,106.3 482.0,106.1 482.5,106.0 483.1,105.9 483.6,105.8 484.2,105.7 484.7,105.5 485.3,105.4 485.8,105.3 486.4,105.2 486.9,105.1 487.4,105.0 488.0,105.0 488.5,104.9 489.1,104.8 489.6,104.7 490.2,104.6 490.7,104.5 491.3,104.5 491.8,104.4 492.4,104.3 492.9,104.3 493.4,104.2 494.0,104.1 494.5,104.1 495.1,104.0 495.6,103.9 496.2,103.9 496.7,103.8 497.3,103.8 497.8,103.7 498.4,103.7 498.9,103.6 499.4,103.6 500.0,103.5 500.5,103.5 501.1,103.4 501.6,103.4 502.2,103.3 502.7,103.3 503.3,103.2 503.8,103.2 504.4,103.2 504.9,103.1 505.4,103.1 506.0,103.1 506.5,103.0 507.1,103.0 507.6,103.0 508.2,102.9 508.7,102.9 509.3,102.9 509.8,102.8 510.3,102.8 510.9,102.8 511.4,102.7 512.0,102.7 512.5,102.7 513.1,102.6 513.6,102.6 514.2,102.6 514.7,102.6 515.3,102.5 515.8,102.5 516.3,102.5 516.9,102.5 517.4,102.5 518.0,102.4 518.5,102.4 519.1,102.4 519.6,102.4 520.2,102.3 520.7,102.3 521.3,102.3 521.8,102.3 522.3,102.3 522.9,102.2 523.4,102.2 524.0,102.2 524.5,102.2 525.1,102.2 525.6,102.2 526.2,102.1 526.7,102.1 527.3,102.1 527.8,102.1 528.3,102.1 528.9,102.1 529.4,102.0 530.0,102.0 530.5,102.0 531.1,102.0 531.6,102.0 532.2,102.0 532.7,102.0 533.2,101.9 533.8,101.9 534.3,101.9 534.9,101.9 535.4,101.9 536.0,101.9 536.5,101.9 537.1,101.9 537.6,101.9 538.2,101.8 538.7,101.8 539.2,101.8 539.8,101.8 540.3,101.8 540.9,101.8 541.4,101.8 542.0,101.8 542.5,101.8 543.1,101.7 543.6,101.7 544.2,101.7 544.7,101.7"/>
<polyline stroke="#4d9bd3" points="326.6,99.3 327.1,99.2 327.7,99.2 328.2,99.1 328.8,99.0 329.3,99.0 329.9,98.9 330.4,98.9 331.0,98.8 331.5,98.7 332.1,98.7 332.6,98.6 333.1,98.5 333.7,98.4 334.2,98.3 334.8,98.3 335.3,98.2 335.9,98.1 336.4,98.0 337.0,97.9 337.5,97.7 338.1,97.6 338.6,97.5 339.1,97.4 339.7,97.3 340.2,97.1 340.8,97.0 341.3,96.8 341.9,96.6 342.4,96.5 343.0,96.3 343.5,96.1 344.0,95.9 344.6,95.7 345.1,95.5 345.7,95.2 346.2,95.0 346.8,94.7 347.3,94.4 347.9,94.2 348.4,93.8 349.0,93.5 349.5,93.1 350.0,92.8 350.6,92.4 351.1,91.9 351.7,91.5 352.2,91.0 352.8,90.4 353.3,89.9 353.9,89.3 354.4,88.6 355.0,87.9 355.5,87.1 356.0,86.3 356.6,85.4 357.1,84.5 357.7,83.5 358.2,82.4 358.8,81.1 359.3,79.8 359.9,78.4 360.4,76.9 361.0,75.2 361.5,73.4 362.0,71.4 362.6,69.3 363.1,67.0 363.7,64.5 364.2,61.8 364.8,58.9 365.3,55.8 365.9,52.5 366.4,49.1 366.9,45.5 367.5,41.8 368.0,38.1 368.6,34.4 369.1,30.9 369.7,27.7 370.2,24.8 370.8,22.5 371.3,20.8 371.9,19.8 372.4,19.6 372.9,20.0 373.5,20.9 374.0,22.3 374.6,24.2 375.1,26.4 375.7,28.8 376.2,31.6 376.8,34.5 377.3,37.5 377.9,40.5 378.4,43.6 378.9,46.6 379.5,49.6 380.0,52.4 380.6,55.2 381.1,57.8 381.7,60.3 382.2,62.7 382.8,65.0 383.3,67.1 383.9,69.1 384.4,71.0 384.9,72.7 385.5,74.4 386.0,75.9 386.6,77.4 387.1,78.8 387.7,80.0 388.2,81.3 388.8,82.4 389.3,83.5 389.8,84.5 390.4,85.4 390.9,86.3 391.5,87.1 392.0,87.9 392.6,88.7 393.1,89.4 393.7,90.1 394.2,90.7 394.8,91.3 395.3,91.9 395.8,92.5 396.4,93.0 396.9,93.5 397.5,94.0 398.0,94.5 398.6,94.9 399.1,95.4 399.7,95.8 400.2,96.2 400.8,96.6 401.3,96.9 401.8,97.3 402.4,97.7 402.9,98.0 403.5,98.4 404.0,98.7 404.6,99.0 405.1,99.3 405.7,99.6 406.2,99.9 406.8,100.2 407.3,100.5 407.8,100.8 408.4,101.1 408.9,101.4 409.5,101.7 410.0,102.0 410.6,102.3 411.1,102.6 411.7,102.9 412.2,103.2 412.7,103.5 413.3,103.8 413.8,104.0 414.4,104.3 414.9,104.7 415.5,105.0 416.0,105.3 416.6,105.6 417.1,105.9 417.7,106.2 418.2,106.6 418.7,106.9 419.3,107.3 419.8,107.6 420.4,108.0 420.9,108.4 421.5,108.8 422.0,109.2 422.6,109.6 423.1,110.1 423.7,110.5 424.2,111.0 424.7,111.5 425.3,112.0 425.8,112.5 426.4,113.0 426.9,113.6 427.5,114.2 428.0,114.8 428.6,115.4 429.1,116.1 429.7,116.8 430.2,117.5 430.7,118.3 431.3,119.1 431.8,120.0 432.4,120.8 432.9,121.8 433.5,122.7 434.0,123.7 434.6,124.8 435.1,125.9 435.7,127.1 436.2,128.3 436.7,129.6 437.3,131.0 437.8,132.4 438.4,133.9 438.9,135.4 439.5,137.1 440.0,138.8 440.6,140.5 441.1,142.4 441.6,144.2 442.2,146.2 442.7,148.2 443.3,150.3 443.8,152.3 444.4,154.5 444.9,156.6 445.5,158.7 446.0,160.8 446.6,162.8 447.1,164.8 447.6,166.7 448.2,168.4 448.7,170.0 449.3,171.4 449.8,172.6 450.4,173.6 450.9,174.3 451.5,174.8 452.0,175.0 452.6,174.9 453.1,174.5 453.6,174.0 454.2,173.1 454.7,172.1 455.3,170.9 455.8,169.5 456.4,168.0 456.9,166.3 457.5,164.5 458.0,162.7 458.6,160.7 459.1,158.8 459.6,156.8 460.2,154.8 460.7,152.9 461.3,150.9 461.8,149.0 462.4,147.1 462.9,145.3 463.5,143.5 464.0,141.8 464.5,140.2 465.1,138.6 465.6,137.0 466.2,135.6 466.7,134.2 467.3,132.8 467.8,131.5 468.4,130.3 468.9,129.1 469.5,128.0 470.0,126.9 470.5,125.9 471.1,125.0 471.6,124.0 472.2,123.2 472.7,122.3 473.3,121.5 473.8,120.8 474.4,120.0 474.9,119.3 475.5,118.7 476.0,118.1 476.5,117.5 477.1,116.9 477.6,116.3 478.2,115.8 478.7,115.3 479.3,114.8 479.8,114.4 480.4,114.0 480.9,113.5 481.5,113.1 482.0,112.8 482.5,112.4 483.1,112.0 483.6,111.7 484.2,111.4 484.7,111.1 485.3,110.8 485.8,110.5 486.4,110.2 486.9,110.0 487.4,109.7 488.0,109.5 488.5,109.2 489.1,109.0 489.6,108.8 490.2,108.6 490.7,108.4 491.3,108.2 491.8,108.0 492.4,107.8 492.9,107.6 493.4,107.5 494.0,107.3 494.5,107.2 495.1,107.0 495.6,106.9 496.2,106.7 496.7,106.6 497.3,106.5 497.8,106.3 498.4,106.2 498.9,106.1 499.4,106.0 500.0,105.9 500.5,105.7 501.1,105.6 501.6,105.5 502.2,105.4 502.7,105.3 503.3,105.2 503.8,105.2 504.4,105.1 504.9,105.0 505.4,104.9 506.0,104.8 506.5,104.7 507.1,104.7 507.6,104.6 508.2,104.5 508.7,104.4 509.3,104.4 509.8,104.3 510.3,104.3 510.9,104.2 511.4,104.1 512.0,104.1 512.5,104.0 513.1,104.0 513.6,103.9 514.2,103.8 514.7,103.8 515.3,103.7 515.8,103.7 516.3,103.6 516.9,103.6 517.4,103.5 518.0,103.5 518.5,103.5 519.1,103.4 519.6,103.4 520.2,103.3 520.7,103.3 521.3,103.3 521.8,103.2 522.3,103.2 522.9,103.1 523.4,103.1 524.0,103.1 524.5,103.0 525.1,103.0 525.6,103.0 526.2,102.9 526.7,102.9 527.3,102.9 527.8,102.9 528.3,102.8 528.9,102.8 529.4,102.8 530.0,102.7 530.5,102.7 531.1,102.7 531.6,102.7 532.2,102.6 532.7,102.6 533.2,102.6 533.8,102.6 534.3,102.5 534.9,102.5 535.4,102.5 536.0,102.5 536.5,102.4 537.1,102.4 537.6,102.4 538.2,102.4 538.7,102.4 539.2,102.3 539.8,102.3 540.3,102.3 540.9,102.3 541.4,102.3 542.0,102.3 542.5,102.2 543.1,102.2 543.6,102.2 544.2,102.2 544.7,102.2"/>
<polyline stroke="#ffc400" points="326.6,100.3 327.1,100.2 327.7,100.2 328.2,100.2 328.8,100.2 329.3,100.1 329.9,100.1 330.4,100.1 331.0,100.1 331.5,100.0 332.1,100.0 332.6,100.0 333.1,100.0 333.7,99.9 334.2,99.9 334.8,99.9 335.3,99.8 335.9,99.8 336.4,99.8 337.0,99.7 337.5,99.7 338.1,99.6 338.6,99.6 339.1,99.5 339.7,99.5 340.2,99.4 340.8,99.4 341.3,99.3 341.9,99.3 342.4,99.2 343.0,99.2 343.5,99.1 344.0,99.0 344.6,99.0 345.1,98.9 345.7,98.8 346.2,98.8 346.8,98.7 347.3,98.6 347.9,98.5 348.4,98.4 349.0,98.3 349.5,98.2 350.0,98.1 350.6,98.0 351.1,97.9 351.7,97.8 352.2,97.6 352.8,97.5 353.3,97.4 353.9,97.2 354.4,97.1 355.0,96.9 355.5,96.7 356.0,96.5 356.6,96.3 357.1,96.1 357.7,95.9 358.2,95.7 358.8,95.5 359.3,95.2 359.9,94.9 360.4,94.6 361.0,94.3 361.5,94.0 362.0,93.7 362.6,93.3 363.1,92.9 363.7,92.5 364.2,92.0 364.8,91.5 365.3,91.0 365.9,90.4 366.4,89.8 366.9,89.2 367.5,88.5 368.0,87.7 368.6,86.9 369.1,86.1 369.7,85.1 370.2,84.1 370.8,83.0 371.3,81.8 371.9,80.4 372.4,79.0 372.9,77.5 373.5,75.8 374.0,73.9 374.6,72.0 375.1,69.8 375.7,67.4 376.2,64.9 376.8,62.2 377.3,59.2 377.9,56.1 378.4,52.8 378.9,49.3 379.5,45.7 380.0,42.0 380.6,38.3 381.1,34.7 381.7,31.3 382.2,28.3 382.8,25.7 383.3,23.7 383.9,22.4 384.4,21.8 384.9,22.0 385.5,22.7 386.0,23.9 386.6,25.6 387.1,27.7 387.7,30.1 388.2,32.8 388.8,35.7 389.3,38.7 389.8,41.8 390.4,44.9 390.9,47.9 391.5,50.9 392.0,53.8 392.6,56.6 393.1,59.2 393.7,61.8 394.2,64.1 394.8,66.4 395.3,68.5 395.8,70.5 396.4,72.4 396.9,74.1 397.5,75.8 398.0,77.3 398.6,78.8 399.1,80.1 399.7,81.4 400.2,82.6 400.8,83.7 401.3,84.7 401.8,85.7 402.4,86.6 402.9,87.5 403.5,88.3 404.0,89.1 404.6,89.8 405.1,90.5 405.7,91.2 406.2,91.8 406.8,92.4 407.3,93.0 407.8,93.5 408.4,94.0 408.9,94.5 409.5,95.0 410.0,95.4 410.6,95.9 411.1,96.3 411.7,96.7 412.2,97.1 412.7,97.4 413.3,97.8 413.8,98.1 414.4,98.5 414.9,98.8 415.5,99.1 416.0,99.5 416.6,99.8 417.1,100.1 417.7,100.4 418.2,100.7 418.7,100.9 419.3,101.2 419.8,101.5 420.4,101.8 420.9,102.0 421.5,102.3 422.0,102.6 422.6,102.8 423.1,103.1 423.7,103.4 424.2,103.6 424.7,103.9 425.3,104.2 425.8,104.5 426.4,104.7 426.9,105.0 427.5,105.3 428.0,105.6 428.6,105.8 429.1,106.1 429.7,106.4 430.2,106.7 430.7,107.0 431.3,107.3 431.8,107.6 432.4,107.9 432.9,108.3 433.5,108.6 434.0,108.9 434.6,109.3 435.1,109.6 435.7,110.0 436.2,110.4 436.7,110.8 437.3,111.2 437.8,111.6 438.4,112.0 438.9,112.5 439.5,112.9 440.0,113.4 440.6,113.9 441.1,114.4 441.6,114.9 442.2,115.4 442.7,116.0 443.3,116.6 443.8,117.2 444.4,117.8 444.9,118.5 445.5,119.2 446.0,119.9 446.6,120.6 447.1,121.4 447.6,122.2 448.2,123.0 448.7,123.9 449.3,124.8 449.8,125.7 450.4,126.7 450.9,127.8 451.5,128.8 452.0,129.9 452.6,131.1 453.1,132.3 453.6,133.6 454.2,134.9 454.7,136.2 455.3,137.6 455.8,139.1 456.4,140.6 456.9,142.1 457.5,143.7 458.0,145.4 458.6,147.0 459.1,148.8 459.6,150.5 460.2,152.3 460.7,154.1 461.3,155.9 461.8,157.7 462.4,159.4 462.9,161.2 463.5,162.9 464.0,164.5 464.5,166.1 465.1,167.6 465.6,168.9 466.2,170.2 466.7,171.2 467.3,172.2 467.8,172.9 468.4,173.5 468.9,173.9 469.5,174.1 470.0,174.0 470.5,173.8 471.1,173.3 471.6,172.5 472.2,171.6 472.7,170.4 473.3,169.1 473.8,167.6 474.4,166.0 474.9,164.2 475.5,162.4 476.0,160.5 476.5,158.6 477.1,156.7 477.6,154.7 478.2,152.8 478.7,150.8 479.3,148.9 479.8,147.1 480.4,145.3 480.9,143.5 481.5,141.8 482.0,140.1 482.5,138.6 483.1,137.0 483.6,135.6 484.2,134.2 484.7,132.8 485.3,131.5 485.8,130.3 486.4,129.1 486.9,128.0 487.4,126.9 488.0,125.9 488.5,125.0 489.1,124.0 489.6,123.2 490.2,122.3 490.7,121.5 491.3,120.8 491.8,120.0 492.4,119.4 492.9,118.7 493.4,118.1 494.0,117.5 494.5,116.9 495.1,116.4 495.6,115.8 496.2,115.3 496.7,114.9 497.3,114.4 497.8,114.0 498.4,113.6 498.9,113.2 499.4,112.8 500.0,112.4 500.5,112.1 501.1,111.7 501.6,111.4 502.2,111.1 502.7,110.8 503.3,110.5 503.8,110.2 504.4,110.0 504.9,109.7 505.4,109.5 506.0,109.2 506.5,109.0 507.1,108.8 507.6,108.6 508.2,108.4 508.7,108.2 509.3,108.0 509.8,107.8 510.3,107.7 510.9,107.5 511.4,107.3 512.0,107.2 512.5,107.0 513.1,106.9 513.6,106.7 514.2,106.6 514.7,106.5 515.3,106.3 515.8,106.2 516.3,106.1 516.9,106.0 517.4,105.9 518.0,105.8 518.5,105.7 519.1,105.6 519.6,105.5 520.2,105.4 520.7,105.3 521.3,105.2 521.8,105.1 522.3,105.0 522.9,104.9 523.4,104.8 524.0,104.8 524.5,104.7 525.1,104.6 525.6,104.5 526.2,104.5 526.7,104.4 527.3,104.3 527.8,104.3 528.3,104.2 528.9,104.1 529.4,104.1 530.0,104.0 530.5,104.0 531.1,103.9 531.6,103.9 532.2,103.8 532.7,103.8 533.2,103.7 533.8,103.7 534.3,103.6 534.9,103.6 535.4,103.5 536.0,103.5 536.5,103.4 537.1,103.4 537.6,103.4 538.2,103.3 538.7,103.3 539.2,103.2 539.8,103.2 540.3,103.2 540.9,103.1 541.4,103.1 542.0,103.1 542.5,103.0 543.1,103.0 543.6,103.0 544.2,102.9 544.7,102.9"/>
<polyline stroke="#dca882" points="326.6,100.7 327.1,100.7 327.7,100.7 328.2,100.7 328.8,100.7 329.3,100.7 329.9,100.7 330.4,100.6 331.0,100.6 331.5,100.6 332.1,100.6 332.6,100.6 333.1,100.6 333.7,100.6 334.2,100.6 334.8,100.5 335.3,100.5 335.9,100.5 336.4,100.5 337.0,100.5 337.5,100.5 338.1,100.4 338.6,100.4 339.1,100.4 339.7,100.4 340.2,100.4 340.8,100.3 341.3,100.3 341.9,100.3 342.4,100.3 343.0,100.2 343.5,100.2 344.0,100.2 344.6,100.2 345.1,100.1 345.7,100.1 346.2,100.1 346.8,100.1 347.3,100.0 347.9,100.0 348.4,99.9 349.0,99.9 349.5,99.9 350.0,99.8 350.6,99.8 351.1,99.8 351.7,99.7 352.2,99.7 352.8,99.6 353.3,99.6 353.9,99.5 354.4,99.5 355.0,99.4 355.5,99.4 356.0,99.3 356.6,99.2 357.1,99.2 357.7,99.1 358.2,99.0 358.8,98.9 359.3,98.9 359.9,98.8 360.4,98.7 361.0,98.6 361.5,98.5 362.0,98.4 362.6,98.3 363.1,98.2 363.7,98.1 364.2,98.0 364.8,97.9 365.3,97.7 365.9,97.6 366.4,97.4 366.9,97.3 367.5,97.1 368.0,97.0 368.6,96.8 369.1,96.6 369.7,96.4 370.2,96.2 370.8,96.0 371.3,95.7 371.9,95.5 372.4,95.2 372.9,94.9 373.5,94.7 374.0,94.3 374.6,94.0 375.1,93.6 375.7,93.3 376.2,92.8 376.8,92.4 377.3,91.9 377.9,91.4 378.4,90.9 378.9,90.3 379.5,89.7 380.0,89.0 380.6,88.3 381.1,87.6 381.7,86.7 382.2,85.8 382.8,84.8 383.3,83.8 383.9,82.6 384.4,81.4 384.9,80.1 385.5,78.6 386.0,77.0 386.6,75.3 387.1,73.4 387.7,71.4 388.2,69.2 388.8,66.8 389.3,64.3 389.8,61.5 390.4,58.6 390.9,55.4 391.5,52.1 392.0,48.7 392.6,45.2 393.1,41.6 393.7,38.0 394.2,34.6 394.8,31.4 395.3,28.6 395.8,26.3 396.4,24.5 396.9,23.4 397.5,23.1 398.0,23.4 398.6,24.3 399.1,25.7 399.7,27.5 400.2,29.7 400.8,32.3 401.3,35.1 401.8,38.0 402.4,41.1 402.9,44.1 403.5,47.2 404.0,50.3 404.6,53.2 405.1,56.1 405.7,58.8 406.2,61.4 406.8,63.9 407.3,66.2 407.8,68.4 408.4,70.4 408.9,72.4 409.5,74.2 410.0,75.9 410.6,77.5 411.1,78.9 411.7,80.3 412.2,81.6 412.7,82.8 413.3,84.0 413.8,85.1 414.4,86.1 414.9,87.0 415.5,87.9 416.0,88.7 416.6,89.5 417.1,90.3 417.7,91.0 418.2,91.6 418.7,92.3 419.3,92.9 419.8,93.4 420.4,94.0 420.9,94.5 421.5,95.0 422.0,95.5 422.6,95.9 423.1,96.3 423.7,96.8 424.2,97.2 424.7,97.5 425.3,97.9 425.8,98.3 426.4,98.6 426.9,99.0 427.5,99.3 428.0,99.6 428.6,99.9 429.1,100.2 429.7,100.5 430.2,100.8 430.7,101.1 431.3,101.4 431.8,101.7 432.4,101.9 432.9,102.2 433.5,102.5 434.0,102.7 434.6,103.0 435.1,103.2 435.7,103.5 436.2,103.8 436.7,104.0 437.3,104.3 437.8,104.5 438.4,104.8 438.9,105.0 439.5,105.3 440.0,105.5 440.6,105.8 441.1,106.1 441.6,106.3 442.2,106.6 442.7,106.9 443.3,107.1 443.8,107.4 444.4,107.7 444.9,108.0 445.5,108.3 446.0,108.6 446.6,108.9 447.1,109.2 447.6,109.5 448.2,109.8 448.7,110.1 449.3,110.5 449.8,110.8 450.4,111.2 450.9,111.5 451.5,111.9 452.0,112.3 452.6,112.7 453.1,113.1 453.6,113.5 454.2,113.9 454.7,114.4 455.3,114.8 455.8,115.3 456.4,115.8 456.9,116.3 457.5,116.8 458.0,117.3 458.6,117.9 459.1,118.4 459.6,119.0 460.2,119.6 460.7,120.3 461.3,120.9 461.8,121.6 462.4,122.3 462.9,123.0 463.5,123.8 464.0,124.6 464.5,125.4 465.1,126.2 465.6,127.1 466.2,128.0 466.7,128.9 467.3,129.9 467.8,130.9 468.4,132.0 468.9,133.0 469.5,134.2 470.0,135.3 470.5,136.5 471.1,137.7 471.6,139.0 472.2,140.3 472.7,141.6 473.3,143.0 473.8,144.4 474.4,145.9 474.9,147.3 475.5,148.8 476.0,150.4 476.5,151.9 477.1,153.4 477.6,155.0 478.2,156.5 478.7,158.1 479.3,159.6 479.8,161.1 480.4,162.6 480.9,164.0 481.5,165.4 482.0,166.7 482.5,167.9 483.1,169.0 483.6,170.0 484.2,170.9 484.7,171.7 485.3,172.4 485.8,172.9 486.4,173.3 486.9,173.5 487.4,173.5 488.0,173.4 488.5,173.1 489.1,172.6 489.6,171.9 490.2,171.0 490.7,170.0 491.3,168.8 491.8,167.5 492.4,166.1 492.9,164.6 493.4,163.0 494.0,161.3 494.5,159.6 495.1,157.9 495.6,156.2 496.2,154.4 496.7,152.7 497.3,150.9 497.8,149.2 498.4,147.5 498.9,145.9 499.4,144.3 500.0,142.7 500.5,141.2 501.1,139.7 501.6,138.3 502.2,136.9 502.7,135.6 503.3,134.3 503.8,133.1 504.4,132.0 504.9,130.8 505.4,129.7 506.0,128.7 506.5,127.7 507.1,126.8 507.6,125.9 508.2,125.0 508.7,124.1 509.3,123.3 509.8,122.6 510.3,121.8 510.9,121.1 511.4,120.5 512.0,119.8 512.5,119.2 513.1,118.6 513.6,118.1 514.2,117.5 514.7,117.0 515.3,116.5 515.8,116.0 516.3,115.6 516.9,115.1 517.4,114.7 518.0,114.3 518.5,113.9 519.1,113.5 519.6,113.2 520.2,112.8 520.7,112.5 521.3,112.2 521.8,111.9 522.3,111.6 522.9,111.3 523.4,111.0 524.0,110.8 524.5,110.5 525.1,110.3 525.6,110.0 526.2,109.8 526.7,109.6 527.3,109.4 527.8,109.2 528.3,109.0 528.9,108.8 529.4,108.6 530.0,108.4 530.5,108.2 531.1,108.1 531.6,107.9 532.2,107.7 532.7,107.6 533.2,107.4 533.8,107.3 534.3,107.1 534.9,107.0 535.4,106.9 536.0,106.8 536.5,106.6 537.1,106.5 537.6,106.4 538.2,106.3 538.7,106.2 539.2,106.1 539.8,106.0 540.3,105.9 540.9,105.8 541.4,105.7 542.0,105.6 542.5,105.5 543.1,105.4 543.6,105.3 544.2,105.2 544.7,105.2"/>
<polyline stroke="#bf5f6c" points="326.6,100.8 327.1,100.8 327.7,100.8 328.2,100.8 328.8,100.8 329.3,100.8 329.9,100.8 330.4,100.8 331.0,100.8 331.5,100.8 332.1,100.8 332.6,100.8 333.1,100.8 333.7,100.7 334.2,100.7 334.8,100.7 335.3,100.7 335.9,100.7 336.4,100.7 337.0,100.7 337.5,100.7 338.1,100.7 338.6,100.7 339.1,100.7 339.7,100.7 340.2,100.6 340.8,100.6 341.3,100.6 341.9,100.6 342.4,100.6 343.0,100.6 343.5,100.6 344.0,100.6 344.6,100.6 345.1,100.5 345.7,100.5 346.2,100.5 346.8,100.5 347.3,100.5 347.9,100.5 348.4,100.5 349.0,100.4 349.5,100.4 350.0,100.4 350.6,100.4 351.1,100.4 351.7,100.3 352.2,100.3 352.8,100.3 353.3,100.3 353.9,100.3 354.4,100.2 355.0,100.2 355.5,100.2 356.0,100.2 356.6,100.1 357.1,100.1 357.7,100.1 358.2,100.1 358.8,100.0 359.3,100.0 359.9,100.0 360.4,99.9 361.0,99.9 361.5,99.9 362.0,99.8 362.6,99.8 363.1,99.8 363.7,99.7 364.2,99.7 364.8,99.6 365.3,99.6 365.9,99.5 366.4,99.5 366.9,99.4 367.5,99.4 368.0,99.3 368.6,99.3 369.1,99.2 369.7,99.2 370.2,99.1 370.8,99.0 371.3,99.0 371.9,98.9 372.4,98.8 372.9,98.7 373.5,98.7 374.0,98.6 374.6,98.5 375.1,98.4 375.7,98.3 376.2,98.2 376.8,98.1 377.3,98.0 377.9,97.8 378.4,97.7 378.9,97.6 379.5,97.4 380.0,97.3 380.6,97.1 381.1,97.0 381.7,96.8 382.2,96.6 382.8,96.4 383.3,96.2 383.9,96.0 384.4,95.8 384.9,95.6 385.5,95.3 386.0,95.0 386.6,94.8 387.1,94.5 387.7,94.1 388.2,93.8 388.8,93.4 389.3,93.1 389.8,92.6 390.4,92.2 390.9,91.7 391.5,91.2 392.0,90.7 392.6,90.1 393.1,89.5 393.7,88.8 394.2,88.1 394.8,87.3 395.3,86.5 395.8,85.5 396.4,84.6 396.9,83.5 397.5,82.3 398.0,81.1 398.6,79.7 399.1,78.3 399.7,76.7 400.2,74.9 400.8,73.0 401.3,71.0 401.8,68.8 402.4,66.4 402.9,63.8 403.5,61.0 404.0,58.1 404.6,54.9 405.1,51.6 405.7,48.2 406.2,44.7 406.8,41.1 407.3,37.7 407.8,34.3 408.4,31.2 408.9,28.5 409.5,26.3 410.0,24.7 410.6,23.8 411.1,23.7 411.7,24.0 412.2,24.8 412.7,25.9 413.3,27.4 413.8,29.3 414.4,31.3 414.9,33.6 415.5,36.1 416.0,38.7 416.6,41.4 417.1,44.0 417.7,46.7 418.2,49.4 418.7,52.0 419.3,54.5 419.8,57.0 420.4,59.3 420.9,61.6 421.5,63.7 422.0,65.7 422.6,67.7 423.1,69.5 423.7,71.2 424.2,72.9 424.7,74.4 425.3,75.9 425.8,77.2 426.4,78.5 426.9,79.8 427.5,80.9 428.0,82.0 428.6,83.0 429.1,84.0 429.7,84.9 430.2,85.8 430.7,86.6 431.3,87.4 431.8,88.1 432.4,88.8 432.9,89.5 433.5,90.1 434.0,90.7 434.6,91.3 435.1,91.9 435.7,92.4 436.2,92.9 436.7,93.4 437.3,93.8 437.8,94.3 438.4,94.7 438.9,95.1 439.5,95.5 440.0,95.9 440.6,96.2 441.1,96.6 441.6,96.9 442.2,97.3 442.7,97.6 443.3,97.9 443.8,98.2 444.4,98.5 444.9,98.8 445.5,99.0 446.0,99.3 446.6,99.6 447.1,99.9 447.6,100.1 448.2,100.4 448.7,100.6 449.3,100.9 449.8,101.1 450.4,101.3 450.9,101.6 451.5,101.8 452.0,102.1 452.6,102.3 453.1,102.5 453.6,102.7 454.2,103.0 454.7,103.2 455.3,103.4 455.8,103.7 456.4,103.9 456.9,104.1 457.5,104.4 458.0,104.6 458.6,104.8 459.1,105.1 459.6,105.3 460.2,105.5 460.7,105.8 461.3,106.0 461.8,106.3 462.4,106.5 462.9,106.8 463.5,107.0 464.0,107.3 464.5,107.6 465.1,107.8 465.6,108.1 466.2,108.4 466.7,108.7 467.3,109.0 467.8,109.3 468.4,109.6 468.9,109.9 469.5,110.3 470.0,110.6 470.5,111.0 471.1,111.3 471.6,111.7 472.2,112.1 472.7,112.4 473.3,112.8 473.8,113.2 474.4,113.7 474.9,114.1 475.5,114.6 476.0,115.0 476.5,115.5 477.1,116.0 477.6,116.5 478.2,117.0 478.7,117.6 479.3,118.2 479.8,118.8 480.4,119.4 480.9,120.0 481.5,120.7 482.0,121.3 482.5,122.1 483.1,122.8 483.6,123.5 484.2,124.3 484.7,125.2 485.3,126.0 485.8,126.9 486.4,127.8 486.9,128.8 487.4,129.7 488.0,130.8 488.5,131.8 489.1,132.9 489.6,134.0 490.2,135.2 490.7,136.4 491.3,137.7 491.8,139.0 492.4,140.3 492.9,141.6 493.4,143.0 494.0,144.5 494.5,146.0 495.1,147.4 495.6,149.0 496.2,150.5 496.7,152.1 497.3,153.6 497.8,155.2 498.4,156.8 498.9,158.4 499.4,159.9 500.0,161.4 500.5,162.9 501.1,164.3 501.6,165.7 502.2,166.9 502.7,168.1 503.3,169.2 503.8,170.2 504.4,171.1 504.9,171.8 505.4,172.4 506.0,172.8 506.5,173.1 507.1,173.2 507.6,173.2 508.2,173.0 508.7,172.6 509.3,172.1 509.8,171.4 510.3,170.6 510.9,169.7 511.4,168.6 512.0,167.4 512.5,166.1 513.1,164.8 513.6,163.4 514.2,161.9 514.7,160.4 515.3,158.8 515.8,157.2 516.3,155.6 516.9,154.0 517.4,152.5 518.0,150.9 518.5,149.3 519.1,147.8 519.6,146.3 520.2,144.8 520.7,143.4 521.3,141.9 521.8,140.6 522.3,139.3 522.9,138.0 523.4,136.7 524.0,135.5 524.5,134.4 525.1,133.2 525.6,132.2 526.2,131.1 526.7,130.1 527.3,129.2 527.8,128.2 528.3,127.3 528.9,126.5 529.4,125.6 530.0,124.9 530.5,124.1 531.1,123.4 531.6,122.7 532.2,122.0 532.7,121.3 533.2,120.7 533.8,120.1 534.3,119.5 534.9,119.0 535.4,118.5 536.0,117.9 536.5,117.4 537.1,117.0 537.6,116.5 538.2,116.1 538.7,115.7 539.2,115.3 539.8,114.9 540.3,114.5 540.9,114.1 541.4,113.8 542.0,113.4 542.5,113.1 543.1,112.8 543.6,112.5 544.2,112.2 544.7,111.9"/>
</g>
<rect x="326.6" y="13.2" width="218.1" height="175.4" fill="none" stroke="#000" stroke-width="1.5"/>
<line x1="326.6" y1="13.22" x2="330.6" y2="13.22" stroke="#000" stroke-width="1.1"/>
<line x1="544.7" y1="13.22" x2="540.7" y2="13.22" stroke="#000" stroke-width="1.1"/>
<line x1="326.6" y1="57.06" x2="330.6" y2="57.06" stroke="#000" stroke-width="1.1"/>
<line x1="544.7" y1="57.06" x2="540.7" y2="57.06" stroke="#000" stroke-width="1.1"/>
<line x1="326.6" y1="100.9" x2="330.6" y2="100.9" stroke="#000" stroke-width="1.1"/>
<line x1="544.7" y1="100.9" x2="540.7" y2="100.9" stroke="#000" stroke-width="1.1"/>
<line x1="326.6" y1="144.74" x2="330.6" y2="144.74" stroke="#000" stroke-width="1.1"/>
<line x1="544.7" y1="144.74" x2="540.7" y2="144.74" stroke="#000" stroke-width="1.1"/>
<line x1="326.6" y1="188.58" x2="330.6" y2="188.58" stroke="#000" stroke-width="1.1"/>
<line x1="544.7" y1="188.58" x2="540.7" y2="188.58" stroke="#000" stroke-width="1.1"/>
<line x1="326.6" y1="35.14" x2="329.1" y2="35.14" stroke="#000" stroke-width="1.1"/>
<line x1="544.7" y1="35.14" x2="542.2" y2="35.14" stroke="#000" stroke-width="1.1"/>
<line x1="326.6" y1="78.98" x2="329.1" y2="78.98" stroke="#000" stroke-width="1.1"/>
<line x1="544.7" y1="78.98" x2="542.2" y2="78.98" stroke="#000" stroke-width="1.1"/>
<line x1="326.6" y1="122.82" x2="329.1" y2="122.82" stroke="#000" stroke-width="1.1"/>
<line x1="544.7" y1="122.82" x2="542.2" y2="122.82" stroke="#000" stroke-width="1.1"/>
<line x1="326.6" y1="166.66" x2="329.1" y2="166.66" stroke="#000" stroke-width="1.1"/>
<line x1="544.7" y1="166.66" x2="542.2" y2="166.66" stroke="#000" stroke-width="1.1"/>
<line x1="361.3" y1="188.6" x2="361.3" y2="184.6" stroke="#000" stroke-width="1.1"/>
<line x1="361.3" y1="13.2" x2="361.3" y2="17.2" stroke="#000" stroke-width="1.1"/>
<line x1="431.65" y1="188.6" x2="431.65" y2="184.6" stroke="#000" stroke-width="1.1"/>
<line x1="431.65" y1="13.2" x2="431.65" y2="17.2" stroke="#000" stroke-width="1.1"/>
<line x1="502" y1="188.6" x2="502" y2="184.6" stroke="#000" stroke-width="1.1"/>
<line x1="502" y1="13.2" x2="502" y2="17.2" stroke="#000" stroke-width="1.1"/>
<line x1="396.48" y1="188.6" x2="396.48" y2="186.1" stroke="#000" stroke-width="1.1"/>
<line x1="396.48" y1="13.2" x2="396.48" y2="15.7" stroke="#000" stroke-width="1.1"/>
<line x1="466.82" y1="188.6" x2="466.82" y2="186.1" stroke="#000" stroke-width="1.1"/>
<line x1="466.82" y1="13.2" x2="466.82" y2="15.7" stroke="#000" stroke-width="1.1"/>
<line x1="537.17" y1="188.6" x2="537.17" y2="186.1" stroke="#000" stroke-width="1.1"/>
<line x1="537.17" y1="13.2" x2="537.17" y2="15.7" stroke="#000" stroke-width="1.1"/>
<text x="322.6" y="16.82" font-family='"Liberation Sans", sans-serif' font-size="10" font-weight="bold" text-anchor="end" fill="#000">0.8</text>
<text x="322.6" y="60.66" font-family='"Liberation Sans", sans-serif' font-size="10" font-weight="bold" text-anchor="end" fill="#000">0.4</text>
<text x="322.6" y="104.5" font-family='"Liberation Sans", sans-serif' font-size="10" font-weight="bold" text-anchor="end" fill="#000">0.0</text>
<text x="322.6" y="148.34" font-family='"Liberation Sans", sans-serif' font-size="10" font-weight="bold" text-anchor="end" fill="#000">-0.4</text>
<text x="322.6" y="192.18" font-family='"Liberation Sans", sans-serif' font-size="10" font-weight="bold" text-anchor="end" fill="#000">-0.8</text>
<text x="361.3" y="200.2" font-family='"Liberation Sans", sans-serif' font-size="10.5" font-weight="bold" text-anchor="middle" fill="#000">3.5</text>
<text x="431.65" y="200.2" font-family='"Liberation Sans", sans-serif' font-size="10.5" font-weight="bold" text-anchor="middle" fill="#000">4.0</text>
<text x="502" y="200.2" font-family='"Liberation Sans", sans-serif' font-size="10.5" font-weight="bold" text-anchor="middle" fill="#000">4.5</text>
<line x1="488.8" y1="25.1" x2="511.8" y2="25.1" stroke="#dc2b2b" stroke-width="1.5"/>
<text x="513.3" y="28.7" font-family='"Liberation Serif", serif' font-size="10.4" font-weight="bold" text-anchor="start" fill="#000">n=1.0</text>
<line x1="488.8" y1="38.58" x2="511.8" y2="38.58" stroke="#17171f" stroke-width="1.5"/>
<text x="513.3" y="42.18" font-family='"Liberation Serif", serif' font-size="10.4" font-weight="bold" text-anchor="start" fill="#000">n=1.1</text>
<line x1="488.8" y1="52.06" x2="511.8" y2="52.06" stroke="#4d9bd3" stroke-width="1.5"/>
<text x="513.3" y="55.66" font-family='"Liberation Serif", serif' font-size="10.4" font-weight="bold" text-anchor="start" fill="#000">n=1.2</text>
<line x1="488.8" y1="65.54" x2="511.8" y2="65.54" stroke="#ffc400" stroke-width="1.5"/>
<text x="513.3" y="69.14" font-family='"Liberation Serif", serif' font-size="10.4" font-weight="bold" text-anchor="start" fill="#000">n=1.3</text>
<line x1="488.8" y1="79.02" x2="511.8" y2="79.02" stroke="#dca882" stroke-width="1.5"/>
<text x="513.3" y="82.62" font-family='"Liberation Serif", serif' font-size="10.4" font-weight="bold" text-anchor="start" fill="#000">n=1.4</text>
<line x1="488.8" y1="92.5" x2="511.8" y2="92.5" stroke="#bf5f6c" stroke-width="1.5"/>
<text x="513.3" y="96.1" font-family='"Liberation Serif", serif' font-size="10.4" font-weight="bold" text-anchor="start" fill="#000">n=1.5</text>
<text x="297" y="23.8" font-family='"Liberation Serif", serif' font-size="19" font-weight="bold" text-anchor="middle" fill="#000">(b)</text>
<text x="302" y="102" font-family='"Liberation Serif", serif' font-size="16" font-weight="bold" text-anchor="middle" fill="#000" transform="rotate(-90 302 102)">CD</text>
<text x="434" y="215.6" font-family='"Liberation Serif", serif' font-size="16.1" font-weight="bold" text-anchor="middle" fill="#000">Wavelength(μm)</text>
<text x="369" y="136.7" font-family='"Liberation Serif", serif' font-size="15.1" font-weight="bold" text-anchor="middle" fill="#000">Structure 2</text>
<text x="368.3" y="160" font-family='"Liberation Serif", serif' font-size="15.1" font-weight="bold" text-anchor="middle" fill="#000">r=0</text>
<g clip-path="url(#pdclip)" fill="none" stroke-width="1.7" stroke-linejoin="round">
<polyline stroke="#dc2b2b" points="325.0,312.0 325.5,311.9 326.1,311.8 326.6,311.7 327.2,311.6 327.7,311.4 328.2,311.3 328.8,311.1 329.3,311.0 329.9,310.8 330.4,310.6 330.9,310.4 331.5,310.2 332.0,310.0 332.6,309.8 333.1,309.6 333.6,309.3 334.2,309.0 334.7,308.7 335.3,308.4 335.8,308.1 336.3,307.8 336.9,307.4 337.4,307.0 337.9,306.5 338.5,306.1 339.0,305.6 339.6,305.1 340.1,304.5 340.6,303.9 341.2,303.2 341.7,302.5 342.3,301.7 342.8,300.8 343.3,299.9 343.9,298.9 344.4,297.8 345.0,296.7 345.5,295.4 346.0,294.0 346.6,292.4 347.1,290.8 347.7,289.0 348.2,287.0 348.7,284.8 349.3,282.5 349.8,279.9 350.4,277.2 350.9,274.2 351.4,271.0 352.0,267.7 352.5,264.1 353.1,260.5 353.6,256.8 354.1,253.2 354.7,249.6 355.2,246.4 355.8,243.5 356.3,241.2 356.8,239.5 357.4,238.6 357.9,238.6 358.4,239.2 359.0,240.4 359.5,242.3 360.1,244.6 360.6,247.3 361.1,250.3 361.7,253.5 362.2,256.8 362.8,260.1 363.3,263.5 363.8,266.7 364.4,269.8 364.9,272.8 365.5,275.7 366.0,278.3 366.5,280.9 367.1,283.2 367.6,285.4 368.2,287.5 368.7,289.4 369.2,291.1 369.8,292.8 370.3,294.3 370.9,295.7 371.4,297.0 371.9,298.3 372.5,299.4 373.0,300.5 373.6,301.5 374.1,302.4 374.6,303.3 375.2,304.1 375.7,304.9 376.3,305.6 376.8,306.3 377.3,306.9 377.9,307.6 378.4,308.1 378.9,308.7 379.5,309.2 380.0,309.7 380.6,310.2 381.1,310.7 381.6,311.1 382.2,311.5 382.7,311.9 383.3,312.3 383.8,312.7 384.3,313.1 384.9,313.4 385.4,313.8 386.0,314.1 386.5,314.4 387.0,314.8 387.6,315.1 388.1,315.4 388.7,315.7 389.2,316.0 389.7,316.4 390.3,316.7 390.8,317.0 391.4,317.3 391.9,317.6 392.4,317.9 393.0,318.2 393.5,318.5 394.1,318.8 394.6,319.1 395.1,319.4 395.7,319.7 396.2,320.0 396.8,320.3 397.3,320.6 397.8,320.9 398.4,321.3 398.9,321.6 399.5,322.0 400.0,322.3 400.5,322.7 401.1,323.0 401.6,323.4 402.1,323.8 402.7,324.2 403.2,324.6 403.8,325.0 404.3,325.4 404.8,325.8 405.4,326.3 405.9,326.8 406.5,327.3 407.0,327.8 407.5,328.3 408.1,328.8 408.6,329.4 409.2,330.0 409.7,330.6 410.2,331.2 410.8,331.8 411.3,332.5 411.9,333.2 412.4,333.9 412.9,334.7 413.5,335.5 414.0,336.3 414.6,337.2 415.1,338.1 415.6,339.1 416.2,340.0 416.7,341.1 417.3,342.1 417.8,343.3 418.3,344.4 418.9,345.7 419.4,346.9 420.0,348.3 420.5,349.6 421.0,351.1 421.6,352.6 422.1,354.2 422.6,355.8 423.2,357.4 423.7,359.2 424.3,361.0 424.8,362.8 425.3,364.7 425.9,366.7 426.4,368.6 427.0,370.7 427.5,372.7 428.0,374.7 428.6,376.8 429.1,378.8 429.7,380.8 430.2,382.7 430.7,384.6 431.3,386.4 431.8,388.0 432.4,389.6 432.9,390.9 433.4,392.1 434.0,393.1 434.5,393.9 435.1,394.5 435.6,394.9 436.1,395.0 436.7,394.9 437.2,394.6 437.8,394.0 438.3,393.3 438.8,392.5 439.4,391.4 439.9,390.2 440.5,388.9 441.0,387.4 441.5,385.8 442.1,384.2 442.6,382.4 443.2,380.7 443.7,378.8 444.2,377.0 444.8,375.1 445.3,373.3 445.8,371.4 446.4,369.6 446.9,367.7 447.5,366.0 448.0,364.2 448.5,362.5 449.1,360.8 449.6,359.2 450.2,357.7 450.7,356.1 451.2,354.7 451.8,353.3 452.3,351.9 452.9,350.6 453.4,349.3 453.9,348.1 454.5,346.9 455.0,345.8 455.6,344.8 456.1,343.7 456.6,342.7 457.2,341.8 457.7,340.9 458.3,340.0 458.8,339.2 459.3,338.4 459.9,337.6 460.4,336.9 461.0,336.2 461.5,335.5 462.0,334.8 462.6,334.2 463.1,333.6 463.7,333.0 464.2,332.5 464.7,331.9 465.3,331.4 465.8,330.9 466.3,330.5 466.9,330.0 467.4,329.6 468.0,329.2 468.5,328.8 469.0,328.4 469.6,328.0 470.1,327.7 470.7,327.3 471.2,327.0 471.7,326.6 472.3,326.3 472.8,326.0 473.4,325.8 473.9,325.5 474.4,325.2 475.0,324.9 475.5,324.7 476.1,324.5 476.6,324.2 477.1,324.0 477.7,323.8 478.2,323.6 478.8,323.4 479.3,323.2 479.8,323.0 480.4,322.8 480.9,322.6 481.5,322.4 482.0,322.3 482.5,322.1 483.1,321.9 483.6,321.8 484.2,321.6 484.7,321.5 485.2,321.3 485.8,321.2 486.3,321.1 486.8,320.9 487.4,320.8 487.9,320.7 488.5,320.6 489.0,320.5 489.5,320.3 490.1,320.2 490.6,320.1 491.2,320.0 491.7,319.9 492.2,319.8 492.8,319.7 493.3,319.6 493.9,319.6 494.4,319.5 494.9,319.4 495.5,319.3 496.0,319.2 496.6,319.1 497.1,319.1 497.6,319.0 498.2,318.9 498.7,318.8 499.3,318.8 499.8,318.7 500.3,318.6 500.9,318.6 501.4,318.5 502.0,318.4 502.5,318.4 503.0,318.3 503.6,318.3 504.1,318.2 504.7,318.1 505.2,318.1 505.7,318.0 506.3,318.0 506.8,317.9 507.4,317.9 507.9,317.8 508.4,317.8 509.0,317.7 509.5,317.7 510.0,317.6 510.6,317.6 511.1,317.6 511.7,317.5 512.2,317.5 512.7,317.4 513.3,317.4 513.8,317.4 514.4,317.3 514.9,317.3 515.4,317.2 516.0,317.2 516.5,317.2 517.1,317.1 517.6,317.1 518.1,317.1 518.7,317.0 519.2,317.0 519.8,317.0 520.3,316.9 520.8,316.9 521.4,316.9 521.9,316.9 522.5,316.8 523.0,316.8 523.5,316.8 524.1,316.7 524.6,316.7 525.2,316.7 525.7,316.7 526.2,316.6 526.8,316.6 527.3,316.6 527.9,316.6 528.4,316.6 528.9,316.5 529.5,316.5 530.0,316.5 530.5,316.5 531.1,316.4 531.6,316.4 532.2,316.4 532.7,316.4 533.2,316.4 533.8,316.3 534.3,316.3 534.9,316.3 535.4,316.3 535.9,316.3 536.5,316.2 537.0,316.2 537.6,316.2 538.1,316.2 538.6,316.2 539.2,316.2 539.7,316.1 540.3,316.1 540.8,316.1"/>
<polyline stroke="#17171f" points="325.0,313.6 325.5,313.6 326.1,313.6 326.6,313.5 327.2,313.5 327.7,313.5 328.2,313.4 328.8,313.4 329.3,313.3 329.9,313.3 330.4,313.2 330.9,313.2 331.5,313.1 332.0,313.0 332.6,313.0 333.1,312.9 333.6,312.8 334.2,312.8 334.7,312.7 335.3,312.6 335.8,312.5 336.3,312.5 336.9,312.4 337.4,312.3 337.9,312.2 338.5,312.1 339.0,312.0 339.6,311.9 340.1,311.7 340.6,311.6 341.2,311.5 341.7,311.3 342.3,311.2 342.8,311.0 343.3,310.9 343.9,310.7 344.4,310.5 345.0,310.3 345.5,310.1 346.0,309.9 346.6,309.7 347.1,309.4 347.7,309.1 348.2,308.9 348.7,308.6 349.3,308.2 349.8,307.9 350.4,307.5 350.9,307.1 351.4,306.7 352.0,306.3 352.5,305.8 353.1,305.3 353.6,304.7 354.1,304.1 354.7,303.5 355.2,302.8 355.8,302.0 356.3,301.2 356.8,300.3 357.4,299.3 357.9,298.3 358.4,297.1 359.0,295.9 359.5,294.5 360.1,293.0 360.6,291.4 361.1,289.7 361.7,287.7 362.2,285.6 362.8,283.4 363.3,280.9 363.8,278.2 364.4,275.3 364.9,272.2 365.5,268.9 366.0,265.5 366.5,261.9 367.1,258.2 367.6,254.6 368.2,251.0 368.7,247.7 369.2,244.7 369.8,242.2 370.3,240.4 370.9,239.3 371.4,238.9 371.9,239.4 372.5,240.4 373.0,242.1 373.6,244.2 374.1,246.8 374.6,249.7 375.2,252.9 375.7,256.1 376.3,259.5 376.8,262.8 377.3,266.0 377.9,269.2 378.4,272.2 378.9,275.1 379.5,277.8 380.0,280.3 380.6,282.7 381.1,285.0 381.6,287.0 382.2,289.0 382.7,290.8 383.3,292.4 383.8,294.0 384.3,295.4 384.9,296.8 385.4,298.0 386.0,299.2 386.5,300.3 387.0,301.3 387.6,302.2 388.1,303.1 388.7,304.0 389.2,304.7 389.7,305.5 390.3,306.2 390.8,306.8 391.4,307.4 391.9,308.0 392.4,308.6 393.0,309.1 393.5,309.6 394.1,310.1 394.6,310.6 395.1,311.0 395.7,311.5 396.2,311.9 396.8,312.3 397.3,312.6 397.8,313.0 398.4,313.4 398.9,313.7 399.5,314.1 400.0,314.4 400.5,314.7 401.1,315.1 401.6,315.4 402.1,315.7 402.7,316.0 403.2,316.3 403.8,316.6 404.3,316.9 404.8,317.2 405.4,317.5 405.9,317.8 406.5,318.1 407.0,318.5 407.5,318.8 408.1,319.1 408.6,319.4 409.2,319.7 409.7,320.0 410.2,320.3 410.8,320.6 411.3,321.0 411.9,321.3 412.4,321.6 412.9,322.0 413.5,322.3 414.0,322.7 414.6,323.0 415.1,323.4 415.6,323.8 416.2,324.2 416.7,324.6 417.3,325.0 417.8,325.5 418.3,325.9 418.9,326.4 419.4,326.8 420.0,327.3 420.5,327.8 421.0,328.4 421.6,328.9 422.1,329.5 422.6,330.1 423.2,330.7 423.7,331.3 424.3,332.0 424.8,332.6 425.3,333.4 425.9,334.1 426.4,334.9 427.0,335.7 427.5,336.5 428.0,337.4 428.6,338.3 429.1,339.3 429.7,340.3 430.2,341.3 430.7,342.4 431.3,343.5 431.8,344.7 432.4,346.0 432.9,347.3 433.4,348.6 434.0,350.0 434.5,351.5 435.1,353.0 435.6,354.6 436.1,356.2 436.7,357.9 437.2,359.6 437.8,361.5 438.3,363.3 438.8,365.2 439.4,367.1 439.9,369.1 440.5,371.1 441.0,373.1 441.5,375.1 442.1,377.1 442.6,379.1 443.2,381.0 443.7,382.9 444.2,384.7 444.8,386.4 445.3,387.9 445.8,389.3 446.4,390.6 446.9,391.6 447.5,392.5 448.0,393.1 448.5,393.6 449.1,393.8 449.6,393.7 450.2,393.5 450.7,393.0 451.2,392.4 451.8,391.6 452.3,390.6 452.9,389.5 453.4,388.2 453.9,386.8 454.5,385.3 455.0,383.7 455.6,382.0 456.1,380.3 456.6,378.5 457.2,376.7 457.7,374.8 458.3,373.0 458.8,371.2 459.3,369.3 459.9,367.5 460.4,365.8 461.0,364.0 461.5,362.3 462.0,360.7 462.6,359.1 463.1,357.5 463.7,356.0 464.2,354.6 464.7,353.2 465.3,351.8 465.8,350.5 466.3,349.2 466.9,348.0 467.4,346.8 468.0,345.7 468.5,344.7 469.0,343.6 469.6,342.6 470.1,341.7 470.7,340.8 471.2,339.9 471.7,339.1 472.3,338.3 472.8,337.5 473.4,336.8 473.9,336.1 474.4,335.4 475.0,334.7 475.5,334.1 476.1,333.5 476.6,332.9 477.1,332.4 477.7,331.9 478.2,331.3 478.8,330.9 479.3,330.4 479.8,329.9 480.4,329.5 480.9,329.1 481.5,328.7 482.0,328.3 482.5,327.9 483.1,327.6 483.6,327.2 484.2,326.9 484.7,326.6 485.2,326.3 485.8,326.0 486.3,325.7 486.8,325.4 487.4,325.1 487.9,324.9 488.5,324.6 489.0,324.4 489.5,324.1 490.1,323.9 490.6,323.7 491.2,323.5 491.7,323.3 492.2,323.1 492.8,322.9 493.3,322.7 493.9,322.5 494.4,322.4 494.9,322.2 495.5,322.0 496.0,321.9 496.6,321.7 497.1,321.6 497.6,321.4 498.2,321.3 498.7,321.1 499.3,321.0 499.8,320.9 500.3,320.8 500.9,320.6 501.4,320.5 502.0,320.4 502.5,320.3 503.0,320.2 503.6,320.1 504.1,320.0 504.7,319.9 505.2,319.8 505.7,319.7 506.3,319.6 506.8,319.5 507.4,319.4 507.9,319.3 508.4,319.2 509.0,319.2 509.5,319.1 510.0,319.0 510.6,318.9 511.1,318.9 511.7,318.8 512.2,318.7 512.7,318.7 513.3,318.6 513.8,318.5 514.4,318.5 514.9,318.4 515.4,318.3 516.0,318.3 516.5,318.2 517.1,318.2 517.6,318.1 518.1,318.0 518.7,318.0 519.2,317.9 519.8,317.9 520.3,317.8 520.8,317.8 521.4,317.7 521.9,317.7 522.5,317.7 523.0,317.6 523.5,317.6 524.1,317.5 524.6,317.5 525.2,317.4 525.7,317.4 526.2,317.4 526.8,317.3 527.3,317.3 527.9,317.3 528.4,317.2 528.9,317.2 529.5,317.1 530.0,317.1 530.5,317.1 531.1,317.0 531.6,317.0 532.2,317.0 532.7,317.0 533.2,316.9 533.8,316.9 534.3,316.9 534.9,316.8 535.4,316.8 535.9,316.8 536.5,316.8 537.0,316.7 537.6,316.7 538.1,316.7 538.6,316.6 539.2,316.6 539.7,316.6 540.3,316.6 540.8,316.5"/>
<polyline stroke="#4d9bd3" points="325.0,314.2 325.5,314.2 326.1,314.2 326.6,314.2 327.2,314.2 327.7,314.2 328.2,314.1 328.8,314.1 329.3,314.1 329.9,314.1 330.4,314.1 330.9,314.0 331.5,314.0 332.0,314.0 332.6,314.0 333.1,314.0 333.6,313.9 334.2,313.9 334.7,313.9 335.3,313.9 335.8,313.8 336.3,313.8 336.9,313.8 337.4,313.7 337.9,313.7 338.5,313.7 339.0,313.6 339.6,313.6 340.1,313.6 340.6,313.5 341.2,313.5 341.7,313.4 342.3,313.4 342.8,313.3 343.3,313.3 343.9,313.2 344.4,313.2 345.0,313.1 345.5,313.1 346.0,313.0 346.6,312.9 347.1,312.9 347.7,312.8 348.2,312.7 348.7,312.6 349.3,312.6 349.8,312.5 350.4,312.4 350.9,312.3 351.4,312.2 352.0,312.1 352.5,312.0 353.1,311.9 353.6,311.8 354.1,311.6 354.7,311.5 355.2,311.4 355.8,311.2 356.3,311.1 356.8,310.9 357.4,310.7 357.9,310.5 358.4,310.3 359.0,310.1 359.5,309.9 360.1,309.7 360.6,309.4 361.1,309.2 361.7,308.9 362.2,308.6 362.8,308.3 363.3,307.9 363.8,307.6 364.4,307.2 364.9,306.8 365.5,306.3 366.0,305.8 366.5,305.3 367.1,304.8 367.6,304.2 368.2,303.5 368.7,302.8 369.2,302.0 369.8,301.2 370.3,300.3 370.9,299.4 371.4,298.3 371.9,297.1 372.5,295.9 373.0,294.5 373.6,293.0 374.1,291.4 374.6,289.6 375.2,287.7 375.7,285.6 376.3,283.3 376.8,280.8 377.3,278.2 377.9,275.3 378.4,272.2 378.9,268.9 379.5,265.5 380.0,261.9 380.6,258.3 381.1,254.8 381.6,251.3 382.2,248.1 382.7,245.3 383.3,243.1 383.8,241.5 384.3,240.6 384.9,240.5 385.4,241.1 386.0,242.3 386.5,244.1 387.0,246.3 387.6,248.9 388.1,251.9 388.7,255.0 389.2,258.2 389.7,261.5 390.3,264.7 390.8,267.9 391.4,270.9 391.9,273.9 392.4,276.6 393.0,279.2 393.5,281.7 394.1,284.0 394.6,286.1 395.1,288.1 395.7,290.0 396.2,291.7 396.8,293.3 397.3,294.8 397.8,296.2 398.4,297.5 398.9,298.7 399.5,299.8 400.0,300.9 400.5,301.8 401.1,302.7 401.6,303.6 402.1,304.4 402.7,305.2 403.2,305.9 403.8,306.5 404.3,307.2 404.8,307.8 405.4,308.3 405.9,308.9 406.5,309.4 407.0,309.9 407.5,310.4 408.1,310.8 408.6,311.2 409.2,311.7 409.7,312.1 410.2,312.4 410.8,312.8 411.3,313.2 411.9,313.5 412.4,313.9 412.9,314.2 413.5,314.5 414.0,314.9 414.6,315.2 415.1,315.5 415.6,315.8 416.2,316.1 416.7,316.4 417.3,316.7 417.8,317.0 418.3,317.3 418.9,317.6 419.4,317.9 420.0,318.2 420.5,318.5 421.0,318.8 421.6,319.1 422.1,319.4 422.6,319.7 423.2,320.0 423.7,320.3 424.3,320.7 424.8,321.0 425.3,321.3 425.9,321.6 426.4,322.0 427.0,322.3 427.5,322.7 428.0,323.0 428.6,323.4 429.1,323.8 429.7,324.2 430.2,324.6 430.7,325.0 431.3,325.4 431.8,325.9 432.4,326.3 432.9,326.8 433.4,327.3 434.0,327.8 434.5,328.3 435.1,328.9 435.6,329.4 436.1,330.0 436.7,330.6 437.2,331.3 437.8,331.9 438.3,332.6 438.8,333.3 439.4,334.0 439.9,334.8 440.5,335.6 441.0,336.5 441.5,337.3 442.1,338.3 442.6,339.2 443.2,340.2 443.7,341.2 444.2,342.3 444.8,343.5 445.3,344.7 445.8,345.9 446.4,347.2 446.9,348.5 447.5,349.9 448.0,351.4 448.5,352.9 449.1,354.5 449.6,356.1 450.2,357.8 450.7,359.5 451.2,361.3 451.8,363.1 452.3,365.0 452.9,366.9 453.4,368.9 453.9,370.9 454.5,372.9 455.0,374.8 455.6,376.8 456.1,378.7 456.6,380.6 457.2,382.4 457.7,384.2 458.3,385.8 458.8,387.3 459.3,388.6 459.9,389.8 460.4,390.8 461.0,391.6 461.5,392.2 462.0,392.5 462.6,392.7 463.1,392.6 463.7,392.3 464.2,391.8 464.7,391.1 465.3,390.3 465.8,389.3 466.3,388.1 466.9,386.8 467.4,385.4 468.0,383.9 468.5,382.3 469.0,380.6 469.6,378.9 470.1,377.1 470.7,375.3 471.2,373.5 471.7,371.7 472.3,369.9 472.8,368.1 473.4,366.3 473.9,364.6 474.4,362.9 475.0,361.2 475.5,359.6 476.1,358.0 476.6,356.5 477.1,355.0 477.7,353.6 478.2,352.2 478.8,350.9 479.3,349.6 479.8,348.4 480.4,347.2 480.9,346.1 481.5,345.0 482.0,344.0 482.5,342.9 483.1,342.0 483.6,341.1 484.2,340.2 484.7,339.3 485.2,338.5 485.8,337.7 486.3,337.0 486.8,336.3 487.4,335.6 487.9,334.9 488.5,334.3 489.0,333.7 489.5,333.1 490.1,332.5 490.6,332.0 491.2,331.5 491.7,331.0 492.2,330.5 492.8,330.0 493.3,329.6 493.9,329.2 494.4,328.8 494.9,328.4 495.5,328.0 496.0,327.6 496.6,327.3 497.1,327.0 497.6,326.6 498.2,326.3 498.7,326.0 499.3,325.7 499.8,325.4 500.3,325.2 500.9,324.9 501.4,324.7 502.0,324.4 502.5,324.2 503.0,324.0 503.6,323.7 504.1,323.5 504.7,323.3 505.2,323.1 505.7,322.9 506.3,322.7 506.8,322.6 507.4,322.4 507.9,322.2 508.4,322.0 509.0,321.9 509.5,321.7 510.0,321.6 510.6,321.4 511.1,321.3 511.7,321.2 512.2,321.0 512.7,320.9 513.3,320.8 513.8,320.6 514.4,320.5 514.9,320.4 515.4,320.3 516.0,320.2 516.5,320.1 517.1,320.0 517.6,319.9 518.1,319.8 518.7,319.7 519.2,319.6 519.8,319.5 520.3,319.4 520.8,319.3 521.4,319.2 521.9,319.2 522.5,319.1 523.0,319.0 523.5,318.9 524.1,318.9 524.6,318.8 525.2,318.7 525.7,318.6 526.2,318.6 526.8,318.5 527.3,318.4 527.9,318.4 528.4,318.3 528.9,318.3 529.5,318.2 530.0,318.2 530.5,318.1 531.1,318.0 531.6,318.0 532.2,317.9 532.7,317.9 533.2,317.8 533.8,317.8 534.3,317.7 534.9,317.7 535.4,317.6 535.9,317.6 536.5,317.6 537.0,317.5 537.6,317.5 538.1,317.4 538.6,317.4 539.2,317.4 539.7,317.3 540.3,317.3 540.8,317.2"/>
<polyline stroke="#ffc400" points="325.0,314.5 325.5,314.5 326.1,314.5 326.6,314.5 327.2,314.5 327.7,314.5 328.2,314.4 328.8,314.4 329.3,314.4 329.9,314.4 330.4,314.4 330.9,314.4 331.5,314.4 332.0,314.4 332.6,314.4 333.1,314.4 333.6,314.4 334.2,314.3 334.7,314.3 335.3,314.3 335.8,314.3 336.3,314.3 336.9,314.3 337.4,314.3 337.9,314.3 338.5,314.2 339.0,314.2 339.6,314.2 340.1,314.2 340.6,314.2 341.2,314.2 341.7,314.1 342.3,314.1 342.8,314.1 343.3,314.1 343.9,314.1 344.4,314.1 345.0,314.0 345.5,314.0 346.0,314.0 346.6,314.0 347.1,313.9 347.7,313.9 348.2,313.9 348.7,313.9 349.3,313.8 349.8,313.8 350.4,313.8 350.9,313.7 351.4,313.7 352.0,313.7 352.5,313.6 353.1,313.6 353.6,313.6 354.1,313.5 354.7,313.5 355.2,313.4 355.8,313.4 356.3,313.3 356.8,313.3 357.4,313.2 357.9,313.2 358.4,313.1 359.0,313.1 359.5,313.0 360.1,313.0 360.6,312.9 361.1,312.8 361.7,312.7 362.2,312.7 362.8,312.6 363.3,312.5 363.8,312.4 364.4,312.3 364.9,312.2 365.5,312.1 366.0,312.0 366.5,311.9 367.1,311.8 367.6,311.7 368.2,311.5 368.7,311.4 369.2,311.3 369.8,311.1 370.3,310.9 370.9,310.8 371.4,310.6 371.9,310.4 372.5,310.2 373.0,310.0 373.6,309.7 374.1,309.5 374.6,309.2 375.2,309.0 375.7,308.7 376.3,308.4 376.8,308.0 377.3,307.7 377.9,307.3 378.4,306.9 378.9,306.4 379.5,305.9 380.0,305.4 380.6,304.9 381.1,304.3 381.6,303.6 382.2,302.9 382.7,302.2 383.3,301.4 383.8,300.5 384.3,299.5 384.9,298.5 385.4,297.4 386.0,296.1 386.5,294.8 387.0,293.3 387.6,291.7 388.1,290.0 388.7,288.0 389.2,286.0 389.7,283.7 390.3,281.3 390.8,278.6 391.4,275.8 391.9,272.7 392.4,269.5 393.0,266.1 393.5,262.5 394.1,259.0 394.6,255.4 395.1,252.0 395.7,248.7 396.2,245.9 396.8,243.6 397.3,241.9 397.8,241.0 398.4,240.8 398.9,241.3 399.5,242.5 400.0,244.2 400.5,246.4 401.1,248.9 401.6,251.8 402.1,254.9 402.7,258.1 403.2,261.4 403.8,264.6 404.3,267.8 404.8,270.8 405.4,273.8 405.9,276.5 406.5,279.2 407.0,281.6 407.5,283.9 408.1,286.1 408.6,288.1 409.2,289.9 409.7,291.7 410.2,293.3 410.8,294.8 411.3,296.2 411.9,297.5 412.4,298.7 412.9,299.8 413.5,300.8 414.0,301.8 414.6,302.7 415.1,303.6 415.6,304.4 416.2,305.2 416.7,305.9 417.3,306.6 417.8,307.2 418.3,307.8 418.9,308.4 419.4,308.9 420.0,309.4 420.5,309.9 421.0,310.4 421.6,310.8 422.1,311.3 422.6,311.7 423.2,312.1 423.7,312.5 424.3,312.9 424.8,313.2 425.3,313.6 425.9,313.9 426.4,314.3 427.0,314.6 427.5,314.9 428.0,315.2 428.6,315.5 429.1,315.9 429.7,316.2 430.2,316.5 430.7,316.8 431.3,317.1 431.8,317.4 432.4,317.7 432.9,318.0 433.4,318.3 434.0,318.6 434.5,318.9 435.1,319.2 435.6,319.5 436.1,319.8 436.7,320.1 437.2,320.4 437.8,320.8 438.3,321.1 438.8,321.4 439.4,321.8 439.9,322.1 440.5,322.5 441.0,322.8 441.5,323.2 442.1,323.6 442.6,324.0 443.2,324.4 443.7,324.8 444.2,325.2 444.8,325.6 445.3,326.1 445.8,326.5 446.4,327.0 446.9,327.5 447.5,328.0 448.0,328.6 448.5,329.1 449.1,329.7 449.6,330.3 450.2,330.9 450.7,331.6 451.2,332.2 451.8,332.9 452.3,333.7 452.9,334.4 453.4,335.2 453.9,336.0 454.5,336.9 455.0,337.8 455.6,338.7 456.1,339.7 456.6,340.7 457.2,341.8 457.7,342.9 458.3,344.1 458.8,345.3 459.3,346.5 459.9,347.9 460.4,349.2 461.0,350.7 461.5,352.1 462.0,353.7 462.6,355.3 463.1,356.9 463.7,358.7 464.2,360.4 464.7,362.2 465.3,364.1 465.8,366.0 466.3,367.9 466.9,369.9 467.4,371.8 468.0,373.8 468.5,375.8 469.0,377.7 469.6,379.6 470.1,381.4 470.7,383.2 471.2,384.9 471.7,386.4 472.3,387.8 472.8,389.0 473.4,390.1 473.9,390.9 474.4,391.6 475.0,392.0 475.5,392.2 476.1,392.2 476.6,392.0 477.1,391.5 477.7,390.9 478.2,390.2 478.8,389.2 479.3,388.1 479.8,386.9 480.4,385.5 480.9,384.0 481.5,382.4 482.0,380.8 482.5,379.1 483.1,377.4 483.6,375.6 484.2,373.8 484.7,372.0 485.2,370.2 485.8,368.4 486.3,366.6 486.8,364.9 487.4,363.2 487.9,361.5 488.5,359.9 489.0,358.3 489.5,356.8 490.1,355.3 490.6,353.9 491.2,352.5 491.7,351.2 492.2,349.9 492.8,348.6 493.3,347.4 493.9,346.3 494.4,345.2 494.9,344.1 495.5,343.1 496.0,342.1 496.6,341.2 497.1,340.3 497.6,339.5 498.2,338.6 498.7,337.9 499.3,337.1 499.8,336.4 500.3,335.7 500.9,335.0 501.4,334.4 502.0,333.8 502.5,333.2 503.0,332.6 503.6,332.1 504.1,331.6 504.7,331.1 505.2,330.6 505.7,330.1 506.3,329.7 506.8,329.2 507.4,328.8 507.9,328.4 508.4,328.1 509.0,327.7 509.5,327.3 510.0,327.0 510.6,326.7 511.1,326.4 511.7,326.1 512.2,325.8 512.7,325.5 513.3,325.2 513.8,324.9 514.4,324.7 514.9,324.4 515.4,324.2 516.0,324.0 516.5,323.8 517.1,323.5 517.6,323.3 518.1,323.1 518.7,322.9 519.2,322.7 519.8,322.6 520.3,322.4 520.8,322.2 521.4,322.1 521.9,321.9 522.5,321.7 523.0,321.6 523.5,321.4 524.1,321.3 524.6,321.2 525.2,321.0 525.7,320.9 526.2,320.8 526.8,320.6 527.3,320.5 527.9,320.4 528.4,320.3 528.9,320.2 529.5,320.1 530.0,320.0 530.5,319.9 531.1,319.8 531.6,319.7 532.2,319.6 532.7,319.5 533.2,319.4 533.8,319.3 534.3,319.2 534.9,319.2 535.4,319.1 535.9,319.0 536.5,318.9 537.0,318.9 537.6,318.8 538.1,318.7 538.6,318.6 539.2,318.6 539.7,318.5 540.3,318.4 540.8,318.4"/>
<polyline stroke="#dca882" points="325.0,314.6 325.5,314.6 326.1,314.6 326.6,314.6 327.2,314.6 327.7,314.6 328.2,314.6 328.8,314.6 329.3,314.6 329.9,314.6 330.4,314.6 330.9,314.6 331.5,314.6 332.0,314.6 332.6,314.6 333.1,314.5 333.6,314.5 334.2,314.5 334.7,314.5 335.3,314.5 335.8,314.5 336.3,314.5 336.9,314.5 337.4,314.5 337.9,314.5 338.5,314.5 339.0,314.5 339.6,314.5 340.1,314.5 340.6,314.5 341.2,314.5 341.7,314.4 342.3,314.4 342.8,314.4 343.3,314.4 343.9,314.4 344.4,314.4 345.0,314.4 345.5,314.4 346.0,314.4 346.6,314.4 347.1,314.4 347.7,314.3 348.2,314.3 348.7,314.3 349.3,314.3 349.8,314.3 350.4,314.3 350.9,314.3 351.4,314.3 352.0,314.2 352.5,314.2 353.1,314.2 353.6,314.2 354.1,314.2 354.7,314.2 355.2,314.2 355.8,314.1 356.3,314.1 356.8,314.1 357.4,314.1 357.9,314.1 358.4,314.0 359.0,314.0 359.5,314.0 360.1,314.0 360.6,313.9 361.1,313.9 361.7,313.9 362.2,313.9 362.8,313.8 363.3,313.8 363.8,313.8 364.4,313.8 364.9,313.7 365.5,313.7 366.0,313.7 366.5,313.6 367.1,313.6 367.6,313.5 368.2,313.5 368.7,313.5 369.2,313.4 369.8,313.4 370.3,313.3 370.9,313.3 371.4,313.2 371.9,313.2 372.5,313.1 373.0,313.0 373.6,313.0 374.1,312.9 374.6,312.8 375.2,312.8 375.7,312.7 376.3,312.6 376.8,312.5 377.3,312.5 377.9,312.4 378.4,312.3 378.9,312.2 379.5,312.1 380.0,312.0 380.6,311.8 381.1,311.7 381.6,311.6 382.2,311.5 382.7,311.3 383.3,311.2 383.8,311.0 384.3,310.8 384.9,310.7 385.4,310.5 386.0,310.3 386.5,310.0 387.0,309.8 387.6,309.6 388.1,309.3 388.7,309.1 389.2,308.8 389.7,308.5 390.3,308.1 390.8,307.8 391.4,307.4 391.9,307.0 392.4,306.6 393.0,306.1 393.5,305.6 394.1,305.0 394.6,304.5 395.1,303.8 395.7,303.2 396.2,302.4 396.8,301.6 397.3,300.8 397.8,299.8 398.4,298.8 398.9,297.7 399.5,296.5 400.0,295.2 400.5,293.7 401.1,292.2 401.6,290.5 402.1,288.6 402.7,286.6 403.2,284.3 403.8,281.9 404.3,279.4 404.8,276.6 405.4,273.6 405.9,270.4 406.5,267.0 407.0,263.6 407.5,260.1 408.1,256.5 408.6,253.1 409.2,249.9 409.7,247.1 410.2,244.7 410.8,243.0 411.3,242.0 411.9,241.7 412.4,242.2 412.9,243.3 413.5,244.9 414.0,247.0 414.6,249.5 415.1,252.3 415.6,255.4 416.2,258.5 416.7,261.7 417.3,264.9 417.8,268.1 418.3,271.1 418.9,274.0 419.4,276.7 420.0,279.3 420.5,281.8 421.0,284.1 421.6,286.2 422.1,288.2 422.6,290.1 423.2,291.8 423.7,293.4 424.3,294.9 424.8,296.2 425.3,297.5 425.9,298.7 426.4,299.8 427.0,300.9 427.5,301.9 428.0,302.8 428.6,303.6 429.1,304.4 429.7,305.2 430.2,305.9 430.7,306.6 431.3,307.2 431.8,307.8 432.4,308.3 432.9,308.9 433.4,309.4 434.0,309.9 434.5,310.3 435.1,310.8 435.6,311.2 436.1,311.6 436.7,312.0 437.2,312.4 437.8,312.8 438.3,313.1 438.8,313.5 439.4,313.8 439.9,314.1 440.5,314.5 441.0,314.8 441.5,315.1 442.1,315.4 442.6,315.7 443.2,316.0 443.7,316.3 444.2,316.6 444.8,316.9 445.3,317.2 445.8,317.5 446.4,317.8 446.9,318.1 447.5,318.4 448.0,318.7 448.5,319.0 449.1,319.3 449.6,319.6 450.2,319.9 450.7,320.2 451.2,320.5 451.8,320.8 452.3,321.1 452.9,321.4 453.4,321.8 453.9,322.1 454.5,322.5 455.0,322.8 455.6,323.2 456.1,323.6 456.6,323.9 457.2,324.3 457.7,324.7 458.3,325.2 458.8,325.6 459.3,326.0 459.9,326.5 460.4,327.0 461.0,327.5 461.5,328.0 462.0,328.5 462.6,329.1 463.1,329.6 463.7,330.2 464.2,330.8 464.7,331.5 465.3,332.1 465.8,332.8 466.3,333.6 466.9,334.3 467.4,335.1 468.0,335.9 468.5,336.8 469.0,337.7 469.6,338.6 470.1,339.6 470.7,340.6 471.2,341.6 471.7,342.7 472.3,343.9 472.8,345.1 473.4,346.4 473.9,347.7 474.4,349.0 475.0,350.5 475.5,351.9 476.1,353.5 476.6,355.1 477.1,356.7 477.7,358.4 478.2,360.1 478.8,361.9 479.3,363.8 479.8,365.7 480.4,367.6 480.9,369.5 481.5,371.5 482.0,373.4 482.5,375.4 483.1,377.3 483.6,379.1 484.2,380.9 484.7,382.7 485.2,384.3 485.8,385.8 486.3,387.1 486.8,388.3 487.4,389.3 487.9,390.2 488.5,390.8 489.0,391.2 489.5,391.3 490.1,391.3 490.6,391.0 491.2,390.6 491.7,390.0 492.2,389.2 492.8,388.2 493.3,387.1 493.9,385.9 494.4,384.5 494.9,383.0 495.5,381.5 496.0,379.8 496.6,378.1 497.1,376.4 497.6,374.6 498.2,372.9 498.7,371.1 499.3,369.3 499.8,367.5 500.3,365.8 500.9,364.1 501.4,362.4 502.0,360.8 502.5,359.2 503.0,357.6 503.6,356.1 504.1,354.7 504.7,353.2 505.2,351.9 505.7,350.6 506.3,349.3 506.8,348.1 507.4,346.9 507.9,345.8 508.4,344.7 509.0,343.7 509.5,342.7 510.0,341.7 510.6,340.8 511.1,339.9 511.7,339.1 512.2,338.3 512.7,337.5 513.3,336.8 513.8,336.0 514.4,335.4 514.9,334.7 515.4,334.1 516.0,333.5 516.5,332.9 517.1,332.3 517.6,331.8 518.1,331.3 518.7,330.8 519.2,330.3 519.8,329.9 520.3,329.4 520.8,329.0 521.4,328.6 521.9,328.2 522.5,327.9 523.0,327.5 523.5,327.1 524.1,326.8 524.6,326.5 525.2,326.2 525.7,325.9 526.2,325.6 526.8,325.3 527.3,325.1 527.9,324.8 528.4,324.5 528.9,324.3 529.5,324.1 530.0,323.8 530.5,323.6 531.1,323.4 531.6,323.2 532.2,323.0 532.7,322.8 533.2,322.6 533.8,322.5 534.3,322.3 534.9,322.1 535.4,321.9 535.9,321.8 536.5,321.6 537.0,321.5 537.6,321.3 538.1,321.2 538.6,321.1 539.2,320.9 539.7,320.8 540.3,320.7 540.8,320.6"/>
<polyline stroke="#bf5f6c" points="325.0,314.7 325.5,314.7 326.1,314.7 326.6,314.7 327.2,314.7 327.7,314.7 328.2,314.7 328.8,314.6 329.3,314.6 329.9,314.6 330.4,314.6 330.9,314.6 331.5,314.6 332.0,314.6 332.6,314.6 333.1,314.6 333.6,314.6 334.2,314.6 334.7,314.6 335.3,314.6 335.8,314.6 336.3,314.6 336.9,314.6 337.4,314.6 337.9,314.6 338.5,314.6 339.0,314.6 339.6,314.6 340.1,314.6 340.6,314.6 341.2,314.6 341.7,314.6 342.3,314.6 342.8,314.6 343.3,314.6 343.9,314.6 344.4,314.6 345.0,314.6 345.5,314.6 346.0,314.5 346.6,314.5 347.1,314.5 347.7,314.5 348.2,314.5 348.7,314.5 349.3,314.5 349.8,314.5 350.4,314.5 350.9,314.5 351.4,314.5 352.0,314.5 352.5,314.5 353.1,314.5 353.6,314.5 354.1,314.5 354.7,314.5 355.2,314.4 355.8,314.4 356.3,314.4 356.8,314.4 357.4,314.4 357.9,314.4 358.4,314.4 359.0,314.4 359.5,314.4 360.1,314.4 360.6,314.4 361.1,314.3 361.7,314.3 362.2,314.3 362.8,314.3 363.3,314.3 363.8,314.3 364.4,314.3 364.9,314.3 365.5,314.2 366.0,314.2 366.5,314.2 367.1,314.2 367.6,314.2 368.2,314.2 368.7,314.1 369.2,314.1 369.8,314.1 370.3,314.1 370.9,314.1 371.4,314.1 371.9,314.0 372.5,314.0 373.0,314.0 373.6,314.0 374.1,313.9 374.6,313.9 375.2,313.9 375.7,313.9 376.3,313.8 376.8,313.8 377.3,313.8 377.9,313.7 378.4,313.7 378.9,313.7 379.5,313.6 380.0,313.6 380.6,313.6 381.1,313.5 381.6,313.5 382.2,313.4 382.7,313.4 383.3,313.3 383.8,313.3 384.3,313.2 384.9,313.2 385.4,313.1 386.0,313.1 386.5,313.0 387.0,313.0 387.6,312.9 388.1,312.8 388.7,312.7 389.2,312.7 389.7,312.6 390.3,312.5 390.8,312.4 391.4,312.3 391.9,312.2 392.4,312.1 393.0,312.0 393.5,311.9 394.1,311.8 394.6,311.7 395.1,311.5 395.7,311.4 396.2,311.3 396.8,311.1 397.3,310.9 397.8,310.8 398.4,310.6 398.9,310.4 399.5,310.2 400.0,310.0 400.5,309.7 401.1,309.5 401.6,309.2 402.1,308.9 402.7,308.6 403.2,308.3 403.8,308.0 404.3,307.6 404.8,307.2 405.4,306.8 405.9,306.4 406.5,305.9 407.0,305.3 407.5,304.8 408.1,304.2 408.6,303.5 409.2,302.8 409.7,302.1 410.2,301.2 410.8,300.3 411.3,299.3 411.9,298.3 412.4,297.1 412.9,295.9 413.5,294.5 414.0,293.0 414.6,291.3 415.1,289.5 415.6,287.6 416.2,285.5 416.7,283.2 417.3,280.7 417.8,278.0 418.3,275.1 418.9,272.0 419.4,268.8 420.0,265.4 420.5,261.9 421.0,258.4 421.6,255.0 422.1,251.7 422.6,248.8 423.2,246.3 423.7,244.4 424.3,243.1 424.8,242.6 425.3,242.8 425.9,243.7 426.4,245.1 427.0,247.0 427.5,249.4 428.0,252.1 428.6,255.0 429.1,258.1 429.7,261.3 430.2,264.4 430.7,267.5 431.3,270.6 431.8,273.5 432.4,276.3 432.9,278.9 433.4,281.4 434.0,283.7 434.5,285.8 435.1,287.8 435.6,289.7 436.1,291.5 436.7,293.1 437.2,294.6 437.8,296.0 438.3,297.3 438.8,298.5 439.4,299.6 439.9,300.7 440.5,301.7 441.0,302.6 441.5,303.5 442.1,304.3 442.6,305.0 443.2,305.7 443.7,306.4 444.2,307.0 444.8,307.6 445.3,308.2 445.8,308.7 446.4,309.3 446.9,309.7 447.5,310.2 448.0,310.7 448.5,311.1 449.1,311.5 449.6,311.9 450.2,312.3 450.7,312.6 451.2,313.0 451.8,313.3 452.3,313.7 452.9,314.0 453.4,314.3 453.9,314.6 454.5,314.9 455.0,315.3 455.6,315.6 456.1,315.9 456.6,316.1 457.2,316.4 457.7,316.7 458.3,317.0 458.8,317.3 459.3,317.6 459.9,317.9 460.4,318.2 461.0,318.4 461.5,318.7 462.0,319.0 462.6,319.3 463.1,319.6 463.7,319.9 464.2,320.2 464.7,320.5 465.3,320.8 465.8,321.1 466.3,321.5 466.9,321.8 467.4,322.1 468.0,322.5 468.5,322.8 469.0,323.2 469.6,323.5 470.1,323.9 470.7,324.3 471.2,324.7 471.7,325.1 472.3,325.6 472.8,326.0 473.4,326.5 473.9,326.9 474.4,327.4 475.0,327.9 475.5,328.4 476.1,329.0 476.6,329.6 477.1,330.1 477.7,330.7 478.2,331.4 478.8,332.0 479.3,332.7 479.8,333.4 480.4,334.2 480.9,335.0 481.5,335.8 482.0,336.6 482.5,337.5 483.1,338.4 483.6,339.4 484.2,340.4 484.7,341.4 485.2,342.5 485.8,343.7 486.3,344.9 486.8,346.1 487.4,347.4 487.9,348.8 488.5,350.2 489.0,351.6 489.5,353.2 490.1,354.7 490.6,356.4 491.2,358.0 491.7,359.8 492.2,361.6 492.8,363.4 493.3,365.3 493.9,367.2 494.4,369.1 494.9,371.0 495.5,373.0 496.0,374.9 496.6,376.8 497.1,378.7 497.6,380.5 498.2,382.2 498.7,383.8 499.3,385.3 499.8,386.7 500.3,387.9 500.9,388.9 501.4,389.8 502.0,390.4 502.5,390.8 503.0,391.0 503.6,391.0 504.1,390.7 504.7,390.3 505.2,389.7 505.7,388.9 506.3,388.0 506.8,386.9 507.4,385.7 507.9,384.3 508.4,382.9 509.0,381.3 509.5,379.7 510.0,378.0 510.6,376.3 511.1,374.6 511.7,372.8 512.2,371.0 512.7,369.3 513.3,367.5 513.8,365.8 514.4,364.1 514.9,362.4 515.4,360.7 516.0,359.1 516.5,357.6 517.1,356.1 517.6,354.6 518.1,353.2 518.7,351.9 519.2,350.5 519.8,349.3 520.3,348.1 520.8,346.9 521.4,345.8 521.9,344.7 522.5,343.6 523.0,342.6 523.5,341.7 524.1,340.8 524.6,339.9 525.2,339.1 525.7,338.2 526.2,337.5 526.8,336.7 527.3,336.0 527.9,335.3 528.4,334.7 528.9,334.1 529.5,333.5 530.0,332.9 530.5,332.3 531.1,331.8 531.6,331.3 532.2,330.8 532.7,330.3 533.2,329.9 533.8,329.4 534.3,329.0 534.9,328.6 535.4,328.2 535.9,327.8 536.5,327.5 537.0,327.1 537.6,326.8 538.1,326.5 538.6,326.2 539.2,325.9 539.7,325.6 540.3,325.3 540.8,325.0"/>
</g>
<rect x="325" y="228.8" width="215.8" height="173.7" fill="none" stroke="#000" stroke-width="1.5"/>
<line x1="325" y1="228.84" x2="329" y2="228.84" stroke="#000" stroke-width="1.1"/>
<line x1="540.8" y1="228.84" x2="536.8" y2="228.84" stroke="#000" stroke-width="1.1"/>
<line x1="325" y1="271.72" x2="329" y2="271.72" stroke="#000" stroke-width="1.1"/>
<line x1="540.8" y1="271.72" x2="536.8" y2="271.72" stroke="#000" stroke-width="1.1"/>
<line x1="325" y1="314.6" x2="329" y2="314.6" stroke="#000" stroke-width="1.1"/>
<line x1="540.8" y1="314.6" x2="536.8" y2="314.6" stroke="#000" stroke-width="1.1"/>
<line x1="325" y1="358.72" x2="329" y2="358.72" stroke="#000" stroke-width="1.1"/>
<line x1="540.8" y1="358.72" x2="536.8" y2="358.72" stroke="#000" stroke-width="1.1"/>
<line x1="325" y1="402.84" x2="329" y2="402.84" stroke="#000" stroke-width="1.1"/>
<line x1="540.8" y1="402.84" x2="536.8" y2="402.84" stroke="#000" stroke-width="1.1"/>
<line x1="325" y1="250.28" x2="327.5" y2="250.28" stroke="#000" stroke-width="1.1"/>
<line x1="540.8" y1="250.28" x2="538.3" y2="250.28" stroke="#000" stroke-width="1.1"/>
<line x1="325" y1="293.16" x2="327.5" y2="293.16" stroke="#000" stroke-width="1.1"/>
<line x1="540.8" y1="293.16" x2="538.3" y2="293.16" stroke="#000" stroke-width="1.1"/>
<line x1="325" y1="336.66" x2="327.5" y2="336.66" stroke="#000" stroke-width="1.1"/>
<line x1="540.8" y1="336.66" x2="538.3" y2="336.66" stroke="#000" stroke-width="1.1"/>
<line x1="325" y1="380.78" x2="327.5" y2="380.78" stroke="#000" stroke-width="1.1"/>
<line x1="540.8" y1="380.78" x2="538.3" y2="380.78" stroke="#000" stroke-width="1.1"/>
<line x1="345.9" y1="402.5" x2="345.9" y2="398.5" stroke="#000" stroke-width="1.1"/>
<line x1="345.9" y1="228.8" x2="345.9" y2="232.8" stroke="#000" stroke-width="1.1"/>
<line x1="397.2" y1="402.5" x2="397.2" y2="398.5" stroke="#000" stroke-width="1.1"/>
<line x1="397.2" y1="228.8" x2="397.2" y2="232.8" stroke="#000" stroke-width="1.1"/>
<line x1="448.5" y1="402.5" x2="448.5" y2="398.5" stroke="#000" stroke-width="1.1"/>
<line x1="448.5" y1="228.8" x2="448.5" y2="232.8" stroke="#000" stroke-width="1.1"/>
<line x1="499.8" y1="402.5" x2="499.8" y2="398.5" stroke="#000" stroke-width="1.1"/>
<line x1="499.8" y1="228.8" x2="499.8" y2="232.8" stroke="#000" stroke-width="1.1"/>
<line x1="371.55" y1="402.5" x2="371.55" y2="400" stroke="#000" stroke-width="1.1"/>
<line x1="371.55" y1="228.8" x2="371.55" y2="231.3" stroke="#000" stroke-width="1.1"/>
<line x1="422.85" y1="402.5" x2="422.85" y2="400" stroke="#000" stroke-width="1.1"/>
<line x1="422.85" y1="228.8" x2="422.85" y2="231.3" stroke="#000" stroke-width="1.1"/>
<line x1="474.15" y1="402.5" x2="474.15" y2="400" stroke="#000" stroke-width="1.1"/>
<line x1="474.15" y1="228.8" x2="474.15" y2="231.3" stroke="#000" stroke-width="1.1"/>
<line x1="525.45" y1="402.5" x2="525.45" y2="400" stroke="#000" stroke-width="1.1"/>
<line x1="525.45" y1="228.8" x2="525.45" y2="231.3" stroke="#000" stroke-width="1.1"/>
<text x="321" y="232.44" font-family='"Liberation Sans", sans-serif' font-size="10" font-weight="bold" text-anchor="end" fill="#000">0.8</text>
<text x="321" y="275.32" font-family='"Liberation Sans", sans-serif' font-size="10" font-weight="bold" text-anchor="end" fill="#000">0.4</text>
<text x="321" y="318.2" font-family='"Liberation Sans", sans-serif' font-size="10" font-weight="bold" text-anchor="end" fill="#000">0.0</text>
<text x="321" y="362.32" font-family='"Liberation Sans", sans-serif' font-size="10" font-weight="bold" text-anchor="end" fill="#000">-0.4</text>
<text x="321" y="406.44" font-family='"Liberation Sans", sans-serif' font-size="10" font-weight="bold" text-anchor="end" fill="#000">-0.8</text>
<text x="345.9" y="414.1" font-family='"Liberation Sans", sans-serif' font-size="10.5" font-weight="bold" text-anchor="middle" fill="#000">3.5</text>
<text x="397.2" y="414.1" font-family='"Liberation Sans", sans-serif' font-size="10.5" font-weight="bold" text-anchor="middle" fill="#000">4.0</text>
<text x="448.5" y="414.1" font-family='"Liberation Sans", sans-serif' font-size="10.5" font-weight="bold" text-anchor="middle" fill="#000">4.5</text>
<text x="499.8" y="414.1" font-family='"Liberation Sans", sans-serif' font-size="10.5" font-weight="bold" text-anchor="middle" fill="#000">5.0</text>
<line x1="484.3" y1="242.3" x2="508.1" y2="242.3" stroke="#dc2b2b" stroke-width="1.5"/>
<text x="510.5" y="245.9" font-family='"Liberation Serif", serif' font-size="10.4" font-weight="bold" text-anchor="start" fill="#000">n=1.0</text>
<line x1="484.3" y1="255.36" x2="508.1" y2="255.36" stroke="#17171f" stroke-width="1.5"/>
<text x="510.5" y="258.96" font-family='"Liberation Serif", serif' font-size="10.4" font-weight="bold" text-anchor="start" fill="#000">n=1.1</text>
<line x1="484.3" y1="268.42" x2="508.1" y2="268.42" stroke="#4d9bd3" stroke-width="1.5"/>
<text x="510.5" y="272.02" font-family='"Liberation Serif", serif' font-size="10.4" font-weight="bold" text-anchor="start" fill="#000">n=1.2</text>
<line x1="484.3" y1="281.48" x2="508.1" y2="281.48" stroke="#ffc400" stroke-width="1.5"/>
<text x="510.5" y="285.08" font-family='"Liberation Serif", serif' font-size="10.4" font-weight="bold" text-anchor="start" fill="#000">n=1.3</text>
<line x1="484.3" y1="294.54" x2="508.1" y2="294.54" stroke="#dca882" stroke-width="1.5"/>
<text x="510.5" y="298.14" font-family='"Liberation Serif", serif' font-size="10.4" font-weight="bold" text-anchor="start" fill="#000">n=1.4</text>
<line x1="484.3" y1="307.6" x2="508.1" y2="307.6" stroke="#bf5f6c" stroke-width="1.5"/>
<text x="510.5" y="311.2" font-family='"Liberation Serif", serif' font-size="10.4" font-weight="bold" text-anchor="start" fill="#000">n=1.5</text>
<text x="296" y="241" font-family='"Liberation Serif", serif' font-size="19" font-weight="bold" text-anchor="middle" fill="#000">(d)</text>
<text x="301" y="315" font-family='"Liberation Serif", serif' font-size="16" font-weight="bold" text-anchor="middle" fill="#000" transform="rotate(-90 301 315)">CD</text>
<text x="429.8" y="429.1" font-family='"Liberation Serif", serif' font-size="16" font-weight="bold" text-anchor="middle" fill="#000">Wavelength(μm)</text>
<text x="369.4" y="351.5" font-family='"Liberation Serif", serif' font-size="14.8" font-weight="bold" text-anchor="middle" fill="#000">Structure 2</text>
<text x="370.8" y="371.5" font-family='"Liberation Serif", serif' font-size="14.8" font-weight="bold" text-anchor="middle" fill="#000">r=0.3 μm</text>
<rect x="104" y="612.4" width="6.8" height="6.8" fill="#fb7d12" stroke="none" stroke-width="0"/>
<rect x="104" y="622.2" width="6.8" height="6.8" fill="#2fad2f" stroke="none" stroke-width="0"/>
<rect x="104" y="631.5" width="6.8" height="6.8" fill="#9c50b8" stroke="none" stroke-width="0"/>
<circle cx="107.4" cy="528.3" r="3.8" fill="#fb7d12"/>
<circle cx="107.4" cy="560" r="3.8" fill="#2fad2f"/>
<circle cx="107.4" cy="575.2" r="3.8" fill="#9c50b8"/>
<rect x="143.38" y="605.3" width="6.8" height="6.8" fill="#fb7d12" stroke="none" stroke-width="0"/>
<rect x="143.38" y="615" width="6.8" height="6.8" fill="#2fad2f" stroke="none" stroke-width="0"/>
<rect x="143.38" y="623.7" width="6.8" height="6.8" fill="#9c50b8" stroke="none" stroke-width="0"/>
<circle cx="146.78" cy="520.9" r="3.8" fill="#fb7d12"/>
<circle cx="146.78" cy="553.1" r="3.8" fill="#2fad2f"/>
<circle cx="146.78" cy="569.8" r="3.8" fill="#9c50b8"/>
<rect x="182.76" y="597.8" width="6.8" height="6.8" fill="#fb7d12" stroke="none" stroke-width="0"/>
<rect x="182.76" y="607.4" width="6.8" height="6.8" fill="#2fad2f" stroke="none" stroke-width="0"/>
<rect x="182.76" y="617.1" width="6.8" height="6.8" fill="#9c50b8" stroke="none" stroke-width="0"/>
<circle cx="186.16" cy="513.8" r="3.8" fill="#fb7d12"/>
<circle cx="186.16" cy="546.8" r="3.8" fill="#2fad2f"/>
<circle cx="186.16" cy="564.8" r="3.8" fill="#9c50b8"/>
<rect x="222.14" y="590.7" width="6.8" height="6.8" fill="#fb7d12" stroke="none" stroke-width="0"/>
<rect x="222.14" y="599.9" width="6.8" height="6.8" fill="#2fad2f" stroke="none" stroke-width="0"/>
<rect x="222.14" y="610.4" width="6.8" height="6.8" fill="#9c50b8" stroke="none" stroke-width="0"/>
<circle cx="225.54" cy="506.7" r="3.8" fill="#fb7d12"/>
<circle cx="225.54" cy="540.6" r="3.8" fill="#2fad2f"/>
<circle cx="225.54" cy="559.4" r="3.8" fill="#9c50b8"/>
<rect x="261.52" y="583.2" width="6.8" height="6.8" fill="#fb7d12" stroke="none" stroke-width="0"/>
<rect x="261.52" y="593.2" width="6.8" height="6.8" fill="#2fad2f" stroke="none" stroke-width="0"/>
<rect x="261.52" y="603.6" width="6.8" height="6.8" fill="#9c50b8" stroke="none" stroke-width="0"/>
<circle cx="264.92" cy="499.6" r="3.8" fill="#fb7d12"/>
<circle cx="264.92" cy="533.9" r="3.8" fill="#2fad2f"/>
<circle cx="264.92" cy="554" r="3.8" fill="#9c50b8"/>
<rect x="300.9" y="575.6" width="6.8" height="6.8" fill="#fb7d12" stroke="none" stroke-width="0"/>
<rect x="300.9" y="585.6" width="6.8" height="6.8" fill="#2fad2f" stroke="none" stroke-width="0"/>
<rect x="300.9" y="596.6" width="6.8" height="6.8" fill="#9c50b8" stroke="none" stroke-width="0"/>
<circle cx="304.3" cy="492.5" r="3.8" fill="#fb7d12"/>
<circle cx="304.3" cy="527.6" r="3.8" fill="#2fad2f"/>
<circle cx="304.3" cy="548.5" r="3.8" fill="#9c50b8"/>
<rect x="340.28" y="568.6" width="6.8" height="6.8" fill="#fb7d12" stroke="none" stroke-width="0"/>
<rect x="340.28" y="578.1" width="6.8" height="6.8" fill="#2fad2f" stroke="none" stroke-width="0"/>
<rect x="340.28" y="589.1" width="6.8" height="6.8" fill="#9c50b8" stroke="none" stroke-width="0"/>
<circle cx="343.68" cy="484.5" r="3.8" fill="#fb7d12"/>
<circle cx="343.68" cy="521" r="3.8" fill="#2fad2f"/>
<circle cx="343.68" cy="543.5" r="3.8" fill="#9c50b8"/>
<rect x="379.66" y="560.6" width="6.8" height="6.8" fill="#fb7d12" stroke="none" stroke-width="0"/>
<rect x="379.66" y="571.1" width="6.8" height="6.8" fill="#2fad2f" stroke="none" stroke-width="0"/>
<rect x="379.66" y="581.6" width="6.8" height="6.8" fill="#9c50b8" stroke="none" stroke-width="0"/>
<circle cx="383.06" cy="477.5" r="3.8" fill="#fb7d12"/>
<circle cx="383.06" cy="515" r="3.8" fill="#2fad2f"/>
<circle cx="383.06" cy="537.5" r="3.8" fill="#9c50b8"/>
<rect x="419.04" y="553.6" width="6.8" height="6.8" fill="#fb7d12" stroke="none" stroke-width="0"/>
<rect x="419.04" y="563.6" width="6.8" height="6.8" fill="#2fad2f" stroke="none" stroke-width="0"/>
<rect x="419.04" y="574.1" width="6.8" height="6.8" fill="#9c50b8" stroke="none" stroke-width="0"/>
<circle cx="422.44" cy="470.2" r="3.8" fill="#fb7d12"/>
<circle cx="422.44" cy="508.5" r="3.8" fill="#2fad2f"/>
<circle cx="422.44" cy="532" r="3.8" fill="#9c50b8"/>
<rect x="458.42" y="546.6" width="6.8" height="6.8" fill="#fb7d12" stroke="none" stroke-width="0"/>
<rect x="458.42" y="556.6" width="6.8" height="6.8" fill="#2fad2f" stroke="none" stroke-width="0"/>
<rect x="458.42" y="566.6" width="6.8" height="6.8" fill="#9c50b8" stroke="none" stroke-width="0"/>
<circle cx="461.82" cy="463" r="3.8" fill="#fb7d12"/>
<circle cx="461.82" cy="502.5" r="3.8" fill="#2fad2f"/>
<circle cx="461.82" cy="527" r="3.8" fill="#9c50b8"/>
<rect x="497.8" y="539.1" width="6.8" height="6.8" fill="#fb7d12" stroke="none" stroke-width="0"/>
<rect x="497.8" y="549.1" width="6.8" height="6.8" fill="#2fad2f" stroke="none" stroke-width="0"/>
<rect x="497.8" y="559.6" width="6.8" height="6.8" fill="#9c50b8" stroke="none" stroke-width="0"/>
<circle cx="501.2" cy="456" r="3.8" fill="#fb7d12"/>
<circle cx="501.2" cy="495.5" r="3.8" fill="#2fad2f"/>
<circle cx="501.2" cy="521.5" r="3.8" fill="#9c50b8"/>
<rect x="68.3" y="442" width="472" height="204.8" fill="none" stroke="#000" stroke-width="1.8"/>
<line x1="68.3" y1="634.8" x2="73.3" y2="634.8" stroke="#000" stroke-width="1.4"/>
<line x1="68.3" y1="578" x2="73.3" y2="578" stroke="#000" stroke-width="1.4"/>
<line x1="68.3" y1="521.2" x2="73.3" y2="521.2" stroke="#000" stroke-width="1.4"/>
<line x1="68.3" y1="464.4" x2="73.3" y2="464.4" stroke="#000" stroke-width="1.4"/>
<line x1="68.3" y1="606.4" x2="71.1" y2="606.4" stroke="#000" stroke-width="1.4"/>
<line x1="68.3" y1="549.6" x2="71.1" y2="549.6" stroke="#000" stroke-width="1.4"/>
<line x1="68.3" y1="492.8" x2="71.1" y2="492.8" stroke="#000" stroke-width="1.4"/>
<line x1="107.4" y1="646.8" x2="107.4" y2="641.8" stroke="#000" stroke-width="1.4"/>
<line x1="186.16" y1="646.8" x2="186.16" y2="641.8" stroke="#000" stroke-width="1.4"/>
<line x1="264.92" y1="646.8" x2="264.92" y2="641.8" stroke="#000" stroke-width="1.4"/>
<line x1="343.68" y1="646.8" x2="343.68" y2="641.8" stroke="#000" stroke-width="1.4"/>
<line x1="422.44" y1="646.8" x2="422.44" y2="641.8" stroke="#000" stroke-width="1.4"/>
<line x1="501.2" y1="646.8" x2="501.2" y2="641.8" stroke="#000" stroke-width="1.4"/>
<line x1="146.78" y1="646.8" x2="146.78" y2="644" stroke="#000" stroke-width="1.4"/>
<line x1="225.54" y1="646.8" x2="225.54" y2="644" stroke="#000" stroke-width="1.4"/>
<line x1="304.3" y1="646.8" x2="304.3" y2="644" stroke="#000" stroke-width="1.4"/>
<line x1="383.06" y1="646.8" x2="383.06" y2="644" stroke="#000" stroke-width="1.4"/>
<line x1="461.82" y1="646.8" x2="461.82" y2="644" stroke="#000" stroke-width="1.4"/>
<text x="63" y="640.4" font-family='"Liberation Sans", sans-serif' font-size="15.5" font-weight="bold" text-anchor="end" fill="#000">3.5</text>
<text x="63" y="583.6" font-family='"Liberation Sans", sans-serif' font-size="15.5" font-weight="bold" text-anchor="end" fill="#000">4.0</text>
<text x="63" y="526.8" font-family='"Liberation Sans", sans-serif' font-size="15.5" font-weight="bold" text-anchor="end" fill="#000">4.5</text>
<text x="63" y="470" font-family='"Liberation Sans", sans-serif' font-size="15.5" font-weight="bold" text-anchor="end" fill="#000">5.0</text>
<text x="107.4" y="663.6" font-family='"Liberation Sans", sans-serif' font-size="15.5" font-weight="bold" text-anchor="middle" fill="#000">1.1</text>
<text x="186.16" y="663.6" font-family='"Liberation Sans", sans-serif' font-size="15.5" font-weight="bold" text-anchor="middle" fill="#000">1.2</text>
<text x="264.92" y="663.6" font-family='"Liberation Sans", sans-serif' font-size="15.5" font-weight="bold" text-anchor="middle" fill="#000">1.3</text>
<text x="343.68" y="663.6" font-family='"Liberation Sans", sans-serif' font-size="15.5" font-weight="bold" text-anchor="middle" fill="#000">1.4</text>
<text x="422.44" y="663.6" font-family='"Liberation Sans", sans-serif' font-size="15.5" font-weight="bold" text-anchor="middle" fill="#000">1.5</text>
<text x="501.2" y="663.6" font-family='"Liberation Sans", sans-serif' font-size="15.5" font-weight="bold" text-anchor="middle" fill="#000">1.6</text>
<text x="304" y="685.2" font-family='"Liberation Serif", serif' font-size="20" font-weight="bold" text-anchor="middle" fill="#000">Refractive Index</text>
<text x="34.5" y="543.7" font-family='"Liberation Serif", serif' font-size="20" font-weight="bold" text-anchor="middle" fill="#000" transform="rotate(-90 34.5 543.7)">Wavelength(μm)</text>
<text x="30.5" y="449.8" font-family='"Liberation Serif", serif' font-size="20" font-weight="bold" text-anchor="middle" fill="#000">(e)</text>
<rect x="76.7" y="447" width="6.4" height="6.4" fill="#9c50b8" stroke="none" stroke-width="0"/>
<text x="96.2" y="454.4" font-family='"Liberation Serif", serif' font-size="14" font-weight="bold" text-anchor="start" fill="#000" style="white-space:pre">r = 0</text>
<text x="131" y="454.4" font-family='"Liberation Serif", serif' font-size="14" font-weight="bold" text-anchor="start" fill="#000">μm</text>
<text x="159.8" y="454.4" font-family='"Liberation Serif", serif' font-size="14" font-weight="bold" text-anchor="start" fill="#000">CD+</text>
<circle cx="79.9" cy="468.8" r="3.6" fill="#9c50b8"/>
<text x="96.2" y="473" font-family='"Liberation Serif", serif' font-size="14" font-weight="bold" text-anchor="start" fill="#000" style="white-space:pre">r = 0</text>
<text x="131" y="473" font-family='"Liberation Serif", serif' font-size="14" font-weight="bold" text-anchor="start" fill="#000">μm</text>
<text x="159.8" y="473" font-family='"Liberation Serif", serif' font-size="14" font-weight="bold" text-anchor="start" fill="#000">CD-</text>
<rect x="76.7" y="483.6" width="6.4" height="6.4" fill="#2fad2f" stroke="none" stroke-width="0"/>
<text x="96.2" y="491" font-family='"Liberation Serif", serif' font-size="14" font-weight="bold" text-anchor="start" fill="#000" style="white-space:pre">r = 0.2</text>
<text x="140.9" y="491" font-family='"Liberation Serif", serif' font-size="14" font-weight="bold" text-anchor="start" fill="#000">μm</text>
<text x="169.7" y="491" font-family='"Liberation Serif", serif' font-size="14" font-weight="bold" text-anchor="start" fill="#000">CD+</text>
<circle cx="79.9" cy="504.3" r="3.6" fill="#2fad2f"/>
<text x="96.2" y="508.5" font-family='"Liberation Serif", serif' font-size="14" font-weight="bold" text-anchor="start" fill="#000" style="white-space:pre">r = 0.2</text>
<text x="140.9" y="508.5" font-family='"Liberation Serif", serif' font-size="14" font-weight="bold" text-anchor="start" fill="#000">μm</text>
<text x="169.7" y="508.5" font-family='"Liberation Serif", serif' font-size="14" font-weight="bold" text-anchor="start" fill="#000">CD-</text>
<rect x="194.5" y="447.4" width="6.4" height="6.4" fill="#fb7d12" stroke="none" stroke-width="0"/>
<text x="214.3" y="454.8" font-family='"Liberation Serif", serif' font-size="14" font-weight="bold" text-anchor="start" fill="#000" style="white-space:pre">r = 0.3</text>
<text x="258.5" y="454.8" font-family='"Liberation Serif", serif' font-size="14" font-weight="bold" text-anchor="start" fill="#000">μm</text>
<text x="289.1" y="454.8" font-family='"Liberation Serif", serif' font-size="14" font-weight="bold" text-anchor="start" fill="#000">CD+</text>
<circle cx="198.6" cy="469" r="3.6" fill="#fb7d12"/>
<text x="214.3" y="473.2" font-family='"Liberation Serif", serif' font-size="14" font-weight="bold" text-anchor="start" fill="#000" style="white-space:pre">r = 0.3</text>
<text x="256.2" y="473.2" font-family='"Liberation Serif", serif' font-size="14" font-weight="bold" text-anchor="start" fill="#000">μm</text>
<text x="284.7" y="473.2" font-family='"Liberation Serif", serif' font-size="14" font-weight="bold" text-anchor="start" fill="#000">CD-</text>
<line x1="494" y1="456.4" x2="527" y2="456.4" stroke="#1c1cf0" stroke-width="2" stroke-dasharray="7 3 2 3"/>
<line x1="494" y1="543" x2="527" y2="543" stroke="#1c1cf0" stroke-width="2" stroke-dasharray="7 3 2 3"/>
<line x1="510.5" y1="466" x2="510.5" y2="533" stroke="#1c1cf0" stroke-width="2" stroke-dasharray="5 3"/>
<polygon points="510.5,457.5 506.8,467 514.2,467" fill="#1c1cf0"/>
<polygon points="510.5,542 506.8,532.5 514.2,532.5" fill="#1c1cf0"/>
<text x="467.4" y="487.7" font-family='"Liberation Serif", serif' font-size="20.7" font-weight="bold" text-anchor="middle" fill="#1c1cf0">753 nm</text>
<line x1="324.6" y1="635.2" x2="324.6" y2="482" stroke="#f01e1e" stroke-width="2.5" stroke-dasharray="6 4"/>
<polygon points="324.6,474.2 320.8,483 328.4,483" fill="#f01e1e"/>
<text x="387.3" y="622.5" font-family='"Liberation Serif", serif' font-size="21" font-weight="bold" text-anchor="middle" fill="#c8161c">r increases</text>
</svg>
</body></html>
